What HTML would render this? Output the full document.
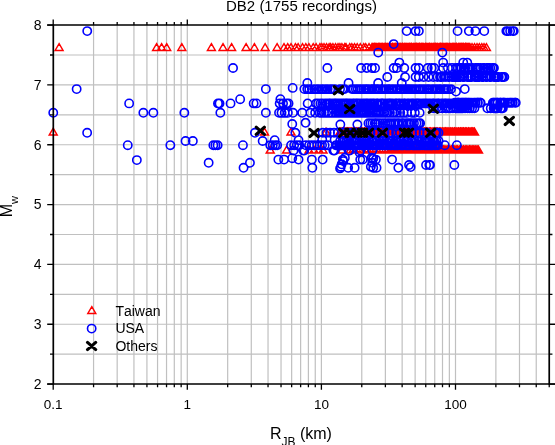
<!DOCTYPE html><html><head><meta charset="utf-8"><title>DB2</title><style>html,body{margin:0;padding:0;background:#fff}svg{display:block}text{font-kerning:none;font-family:"Liberation Sans",Arial,Helvetica,sans-serif;fill:#000}</style></head><body>
<svg width="555" height="445" viewBox="0 0 555 445">
<rect width="555" height="445" fill="#fff"/>
<path d="M93.57 25.1V384.1M117.18 25.1V384.1M133.94 25.1V384.1M146.93 25.1V384.1M157.55 25.1V384.1M166.53 25.1V384.1M174.30 25.1V384.1M181.16 25.1V384.1M187.30 25.1V384.1M227.67 25.1V384.1M251.28 25.1V384.1M268.04 25.1V384.1M281.03 25.1V384.1M291.65 25.1V384.1M300.63 25.1V384.1M308.40 25.1V384.1M315.26 25.1V384.1M321.40 25.1V384.1M361.77 25.1V384.1M385.38 25.1V384.1M402.14 25.1V384.1M415.13 25.1V384.1M425.75 25.1V384.1M434.73 25.1V384.1M442.50 25.1V384.1M449.36 25.1V384.1M455.50 25.1V384.1M495.87 25.1V384.1M519.48 25.1V384.1M536.24 25.1V384.1M53.2 354.18H549.23M53.2 324.27H549.23M53.2 294.35H549.23M53.2 264.43H549.23M53.2 234.52H549.23M53.2 204.60H549.23M53.2 174.68H549.23M53.2 144.77H549.23M53.2 114.85H549.23M53.2 84.93H549.23M53.2 55.02H549.23" stroke="#c0c0c0" stroke-width="1.2" fill="none"/>
<path d="M59.1 43.6l3.98 6.90h-7.97zM156.6 43.6l3.98 6.90h-7.97zM161.6 43.6l3.98 6.90h-7.97zM166.7 43.6l3.98 6.90h-7.97zM181.8 43.6l3.98 6.90h-7.97zM211.4 43.6l3.98 6.90h-7.97zM223.0 43.6l3.98 6.90h-7.97zM231.6 43.6l3.98 6.90h-7.97zM246.1 43.6l3.98 6.90h-7.97zM254.4 43.6l3.98 6.90h-7.97zM265.1 43.6l3.98 6.90h-7.97zM277.1 43.6l3.98 6.90h-7.97zM284.0 43.6l3.98 6.90h-7.97zM287.7 43.6l3.98 6.90h-7.97zM291.0 43.6l3.98 6.90h-7.97zM295.4 43.6l3.98 6.90h-7.97zM298.1 43.6l3.98 6.90h-7.97zM302.5 43.6l3.98 6.90h-7.97zM305.8 43.6l3.98 6.90h-7.97zM308.9 43.6l3.98 6.90h-7.97zM313.2 43.6l3.98 6.90h-7.97zM316.1 43.6l3.98 6.90h-7.97zM319.9 43.6l3.98 6.90h-7.97zM321.8 43.6l3.98 6.90h-7.97zM324.0 43.6l3.98 6.90h-7.97zM326.5 43.6l3.98 6.90h-7.97zM329.1 43.6l3.98 6.90h-7.97zM330.6 43.6l3.98 6.90h-7.97zM332.9 43.6l3.98 6.90h-7.97zM335.5 43.6l3.98 6.90h-7.97zM338.0 43.6l3.98 6.90h-7.97zM339.9 43.6l3.98 6.90h-7.97zM341.9 43.6l3.98 6.90h-7.97zM344.7 43.6l3.98 6.90h-7.97zM346.0 43.6l3.98 6.90h-7.97zM349.7 43.6l3.98 6.90h-7.97zM351.8 43.6l3.98 6.90h-7.97zM354.5 43.6l3.98 6.90h-7.97zM357.2 43.6l3.98 6.90h-7.97zM360.3 43.6l3.98 6.90h-7.97zM363.7 43.6l3.98 6.90h-7.97zM365.7 43.6l3.98 6.90h-7.97zM369.0 43.6l3.98 6.90h-7.97zM371.9 43.6l3.98 6.90h-7.97zM372.9 43.6l3.98 6.90h-7.97zM374.0 43.6l3.98 6.90h-7.97zM374.8 43.6l3.98 6.90h-7.97zM375.8 43.6l3.98 6.90h-7.97zM376.9 43.6l3.98 6.90h-7.97zM378.1 43.6l3.98 6.90h-7.97zM379.0 43.6l3.98 6.90h-7.97zM379.9 43.6l3.98 6.90h-7.97zM381.0 43.6l3.98 6.90h-7.97zM382.0 43.6l3.98 6.90h-7.97zM382.9 43.6l3.98 6.90h-7.97zM384.1 43.6l3.98 6.90h-7.97zM385.1 43.6l3.98 6.90h-7.97zM385.9 43.6l3.98 6.90h-7.97zM387.0 43.6l3.98 6.90h-7.97zM388.0 43.6l3.98 6.90h-7.97zM389.2 43.6l3.98 6.90h-7.97zM390.1 43.6l3.98 6.90h-7.97zM390.9 43.6l3.98 6.90h-7.97zM392.2 43.6l3.98 6.90h-7.97zM392.8 43.6l3.98 6.90h-7.97zM394.0 43.6l3.98 6.90h-7.97zM395.1 43.6l3.98 6.90h-7.97zM395.9 43.6l3.98 6.90h-7.97zM397.0 43.6l3.98 6.90h-7.97zM397.8 43.6l3.98 6.90h-7.97zM399.1 43.6l3.98 6.90h-7.97zM400.1 43.6l3.98 6.90h-7.97zM401.0 43.6l3.98 6.90h-7.97zM402.2 43.6l3.98 6.90h-7.97zM402.9 43.6l3.98 6.90h-7.97zM404.1 43.6l3.98 6.90h-7.97zM405.0 43.6l3.98 6.90h-7.97zM406.0 43.6l3.98 6.90h-7.97zM407.0 43.6l3.98 6.90h-7.97zM408.1 43.6l3.98 6.90h-7.97zM409.2 43.6l3.98 6.90h-7.97zM410.0 43.6l3.98 6.90h-7.97zM411.1 43.6l3.98 6.90h-7.97zM411.8 43.6l3.98 6.90h-7.97zM413.1 43.6l3.98 6.90h-7.97zM414.1 43.6l3.98 6.90h-7.97zM415.2 43.6l3.98 6.90h-7.97zM416.1 43.6l3.98 6.90h-7.97zM416.9 43.6l3.98 6.90h-7.97zM418.0 43.6l3.98 6.90h-7.97zM419.1 43.6l3.98 6.90h-7.97zM419.8 43.6l3.98 6.90h-7.97zM421.0 43.6l3.98 6.90h-7.97zM421.9 43.6l3.98 6.90h-7.97zM422.8 43.6l3.98 6.90h-7.97zM423.8 43.6l3.98 6.90h-7.97zM425.1 43.6l3.98 6.90h-7.97zM425.9 43.6l3.98 6.90h-7.97zM426.9 43.6l3.98 6.90h-7.97zM428.0 43.6l3.98 6.90h-7.97zM429.1 43.6l3.98 6.90h-7.97zM429.8 43.6l3.98 6.90h-7.97zM431.0 43.6l3.98 6.90h-7.97zM432.0 43.6l3.98 6.90h-7.97zM433.2 43.6l3.98 6.90h-7.97zM434.1 43.6l3.98 6.90h-7.97zM435.1 43.6l3.98 6.90h-7.97zM435.9 43.6l3.98 6.90h-7.97zM437.0 43.6l3.98 6.90h-7.97zM437.9 43.6l3.98 6.90h-7.97zM439.2 43.6l3.98 6.90h-7.97zM440.2 43.6l3.98 6.90h-7.97zM440.9 43.6l3.98 6.90h-7.97zM441.9 43.6l3.98 6.90h-7.97zM442.9 43.6l3.98 6.90h-7.97zM443.9 43.6l3.98 6.90h-7.97zM445.0 43.6l3.98 6.90h-7.97zM446.0 43.6l3.98 6.90h-7.97zM446.9 43.6l3.98 6.90h-7.97zM447.8 43.6l3.98 6.90h-7.97zM449.0 43.6l3.98 6.90h-7.97zM449.9 43.6l3.98 6.90h-7.97zM451.0 43.6l3.98 6.90h-7.97zM452.2 43.6l3.98 6.90h-7.97zM453.1 43.6l3.98 6.90h-7.97zM454.0 43.6l3.98 6.90h-7.97zM455.0 43.6l3.98 6.90h-7.97zM456.1 43.6l3.98 6.90h-7.97zM456.8 43.6l3.98 6.90h-7.97zM458.2 43.6l3.98 6.90h-7.97zM459.1 43.6l3.98 6.90h-7.97zM460.1 43.6l3.98 6.90h-7.97zM461.1 43.6l3.98 6.90h-7.97zM462.0 43.6l3.98 6.90h-7.97zM463.0 43.6l3.98 6.90h-7.97zM463.8 43.6l3.98 6.90h-7.97zM465.1 43.6l3.98 6.90h-7.97zM465.8 43.6l3.98 6.90h-7.97zM466.8 43.6l3.98 6.90h-7.97zM467.9 43.6l3.98 6.90h-7.97zM468.9 43.6l3.98 6.90h-7.97zM469.9 43.6l3.98 6.90h-7.97zM472.0 43.6l3.98 6.90h-7.97zM474.5 43.6l3.98 6.90h-7.97zM477.0 43.6l3.98 6.90h-7.97zM479.3 43.6l3.98 6.90h-7.97zM481.8 43.6l3.98 6.90h-7.97zM484.0 43.6l3.98 6.90h-7.97zM486.4 43.6l3.98 6.90h-7.97zM53.2 128.2l3.98 6.90h-7.97zM264.5 128.2l3.98 6.90h-7.97zM291.0 128.2l3.98 6.90h-7.97zM326.0 128.2l3.98 6.90h-7.97zM339.8 128.2l3.98 6.90h-7.97zM340.8 128.2l3.98 6.90h-7.97zM341.9 128.2l3.98 6.90h-7.97zM342.8 128.2l3.98 6.90h-7.97zM343.9 128.2l3.98 6.90h-7.97zM344.8 128.2l3.98 6.90h-7.97zM346.1 128.2l3.98 6.90h-7.97zM347.0 128.2l3.98 6.90h-7.97zM347.9 128.2l3.98 6.90h-7.97zM348.9 128.2l3.98 6.90h-7.97zM349.9 128.2l3.98 6.90h-7.97zM350.9 128.2l3.98 6.90h-7.97zM351.8 128.2l3.98 6.90h-7.97zM353.1 128.2l3.98 6.90h-7.97zM354.2 128.2l3.98 6.90h-7.97zM355.0 128.2l3.98 6.90h-7.97zM356.0 128.2l3.98 6.90h-7.97zM356.8 128.2l3.98 6.90h-7.97zM357.8 128.2l3.98 6.90h-7.97zM358.9 128.2l3.98 6.90h-7.97zM359.9 128.2l3.98 6.90h-7.97zM361.1 128.2l3.98 6.90h-7.97zM361.9 128.2l3.98 6.90h-7.97zM362.8 128.2l3.98 6.90h-7.97zM364.2 128.2l3.98 6.90h-7.97zM365.0 128.2l3.98 6.90h-7.97zM365.9 128.2l3.98 6.90h-7.97zM367.0 128.2l3.98 6.90h-7.97zM367.8 128.2l3.98 6.90h-7.97zM369.0 128.2l3.98 6.90h-7.97zM370.2 128.2l3.98 6.90h-7.97zM371.1 128.2l3.98 6.90h-7.97zM372.1 128.2l3.98 6.90h-7.97zM372.9 128.2l3.98 6.90h-7.97zM373.9 128.2l3.98 6.90h-7.97zM374.9 128.2l3.98 6.90h-7.97zM376.1 128.2l3.98 6.90h-7.97zM377.0 128.2l3.98 6.90h-7.97zM378.1 128.2l3.98 6.90h-7.97zM378.9 128.2l3.98 6.90h-7.97zM379.9 128.2l3.98 6.90h-7.97zM381.1 128.2l3.98 6.90h-7.97zM382.2 128.2l3.98 6.90h-7.97zM383.1 128.2l3.98 6.90h-7.97zM384.1 128.2l3.98 6.90h-7.97zM385.1 128.2l3.98 6.90h-7.97zM386.1 128.2l3.98 6.90h-7.97zM386.9 128.2l3.98 6.90h-7.97zM388.0 128.2l3.98 6.90h-7.97zM388.9 128.2l3.98 6.90h-7.97zM389.8 128.2l3.98 6.90h-7.97zM390.8 128.2l3.98 6.90h-7.97zM391.9 128.2l3.98 6.90h-7.97zM392.9 128.2l3.98 6.90h-7.97zM394.1 128.2l3.98 6.90h-7.97zM395.2 128.2l3.98 6.90h-7.97zM396.0 128.2l3.98 6.90h-7.97zM397.2 128.2l3.98 6.90h-7.97zM398.2 128.2l3.98 6.90h-7.97zM399.2 128.2l3.98 6.90h-7.97zM399.9 128.2l3.98 6.90h-7.97zM400.9 128.2l3.98 6.90h-7.97zM401.9 128.2l3.98 6.90h-7.97zM402.9 128.2l3.98 6.90h-7.97zM403.9 128.2l3.98 6.90h-7.97zM405.0 128.2l3.98 6.90h-7.97zM406.2 128.2l3.98 6.90h-7.97zM407.1 128.2l3.98 6.90h-7.97zM408.0 128.2l3.98 6.90h-7.97zM409.1 128.2l3.98 6.90h-7.97zM410.1 128.2l3.98 6.90h-7.97zM410.8 128.2l3.98 6.90h-7.97zM412.1 128.2l3.98 6.90h-7.97zM413.2 128.2l3.98 6.90h-7.97zM414.1 128.2l3.98 6.90h-7.97zM415.1 128.2l3.98 6.90h-7.97zM416.0 128.2l3.98 6.90h-7.97zM416.9 128.2l3.98 6.90h-7.97zM418.1 128.2l3.98 6.90h-7.97zM418.9 128.2l3.98 6.90h-7.97zM420.1 128.2l3.98 6.90h-7.97zM421.2 128.2l3.98 6.90h-7.97zM422.0 128.2l3.98 6.90h-7.97zM423.0 128.2l3.98 6.90h-7.97zM424.2 128.2l3.98 6.90h-7.97zM425.1 128.2l3.98 6.90h-7.97zM425.9 128.2l3.98 6.90h-7.97zM426.9 128.2l3.98 6.90h-7.97zM427.9 128.2l3.98 6.90h-7.97zM429.2 128.2l3.98 6.90h-7.97zM430.1 128.2l3.98 6.90h-7.97zM430.9 128.2l3.98 6.90h-7.97zM432.1 128.2l3.98 6.90h-7.97zM433.2 128.2l3.98 6.90h-7.97zM434.1 128.2l3.98 6.90h-7.97zM434.9 128.2l3.98 6.90h-7.97zM436.0 128.2l3.98 6.90h-7.97zM436.9 128.2l3.98 6.90h-7.97zM437.8 128.2l3.98 6.90h-7.97zM439.2 128.2l3.98 6.90h-7.97zM440.1 128.2l3.98 6.90h-7.97zM441.0 128.2l3.98 6.90h-7.97zM442.2 128.2l3.98 6.90h-7.97zM443.0 128.2l3.98 6.90h-7.97zM444.1 128.2l3.98 6.90h-7.97zM445.1 128.2l3.98 6.90h-7.97zM445.9 128.2l3.98 6.90h-7.97zM446.9 128.2l3.98 6.90h-7.97zM447.9 128.2l3.98 6.90h-7.97zM448.9 128.2l3.98 6.90h-7.97zM450.0 128.2l3.98 6.90h-7.97zM450.9 128.2l3.98 6.90h-7.97zM452.0 128.2l3.98 6.90h-7.97zM452.9 128.2l3.98 6.90h-7.97zM454.2 128.2l3.98 6.90h-7.97zM454.9 128.2l3.98 6.90h-7.97zM456.0 128.2l3.98 6.90h-7.97zM457.0 128.2l3.98 6.90h-7.97zM458.2 128.2l3.98 6.90h-7.97zM459.0 128.2l3.98 6.90h-7.97zM460.2 128.2l3.98 6.90h-7.97zM461.0 128.2l3.98 6.90h-7.97zM462.0 128.2l3.98 6.90h-7.97zM463.0 128.2l3.98 6.90h-7.97zM463.8 128.2l3.98 6.90h-7.97zM465.0 128.2l3.98 6.90h-7.97zM465.9 128.2l3.98 6.90h-7.97zM466.8 128.2l3.98 6.90h-7.97zM468.1 128.2l3.98 6.90h-7.97zM468.9 128.2l3.98 6.90h-7.97zM470.0 128.2l3.98 6.90h-7.97zM471.1 128.2l3.98 6.90h-7.97zM472.0 128.2l3.98 6.90h-7.97zM472.9 128.2l3.98 6.90h-7.97zM474.0 128.2l3.98 6.90h-7.97zM474.5 128.2l3.98 6.90h-7.97zM270.2 146.2l3.98 6.90h-7.97zM286.6 146.2l3.98 6.90h-7.97zM309.0 146.2l3.98 6.90h-7.97zM314.0 146.2l3.98 6.90h-7.97zM319.0 146.2l3.98 6.90h-7.97zM323.0 146.2l3.98 6.90h-7.97zM342.0 146.2l3.98 6.90h-7.97zM350.1 146.2l3.98 6.90h-7.97zM352.8 146.2l3.98 6.90h-7.97zM354.6 146.2l3.98 6.90h-7.97zM357.6 146.2l3.98 6.90h-7.97zM359.7 146.2l3.98 6.90h-7.97zM362.3 146.2l3.98 6.90h-7.97zM365.3 146.2l3.98 6.90h-7.97zM367.5 146.2l3.98 6.90h-7.97zM370.1 146.2l3.98 6.90h-7.97zM372.8 146.2l3.98 6.90h-7.97zM375.4 146.2l3.98 6.90h-7.97zM377.4 146.2l3.98 6.90h-7.97zM380.1 146.2l3.98 6.90h-7.97zM382.5 146.2l3.98 6.90h-7.97zM385.0 146.2l3.98 6.90h-7.97zM387.7 146.2l3.98 6.90h-7.97zM390.0 146.2l3.98 6.90h-7.97zM391.0 146.2l3.98 6.90h-7.97zM392.0 146.2l3.98 6.90h-7.97zM393.2 146.2l3.98 6.90h-7.97zM394.1 146.2l3.98 6.90h-7.97zM395.2 146.2l3.98 6.90h-7.97zM396.2 146.2l3.98 6.90h-7.97zM396.9 146.2l3.98 6.90h-7.97zM398.0 146.2l3.98 6.90h-7.97zM399.2 146.2l3.98 6.90h-7.97zM400.1 146.2l3.98 6.90h-7.97zM400.9 146.2l3.98 6.90h-7.97zM401.8 146.2l3.98 6.90h-7.97zM403.0 146.2l3.98 6.90h-7.97zM403.8 146.2l3.98 6.90h-7.97zM404.9 146.2l3.98 6.90h-7.97zM405.8 146.2l3.98 6.90h-7.97zM407.1 146.2l3.98 6.90h-7.97zM408.1 146.2l3.98 6.90h-7.97zM409.2 146.2l3.98 6.90h-7.97zM409.9 146.2l3.98 6.90h-7.97zM411.1 146.2l3.98 6.90h-7.97zM412.1 146.2l3.98 6.90h-7.97zM412.9 146.2l3.98 6.90h-7.97zM414.2 146.2l3.98 6.90h-7.97zM415.2 146.2l3.98 6.90h-7.97zM415.9 146.2l3.98 6.90h-7.97zM417.2 146.2l3.98 6.90h-7.97zM418.0 146.2l3.98 6.90h-7.97zM419.0 146.2l3.98 6.90h-7.97zM420.2 146.2l3.98 6.90h-7.97zM421.1 146.2l3.98 6.90h-7.97zM421.9 146.2l3.98 6.90h-7.97zM423.0 146.2l3.98 6.90h-7.97zM424.0 146.2l3.98 6.90h-7.97zM424.9 146.2l3.98 6.90h-7.97zM425.9 146.2l3.98 6.90h-7.97zM426.9 146.2l3.98 6.90h-7.97zM428.1 146.2l3.98 6.90h-7.97zM428.8 146.2l3.98 6.90h-7.97zM430.0 146.2l3.98 6.90h-7.97zM431.0 146.2l3.98 6.90h-7.97zM431.8 146.2l3.98 6.90h-7.97zM432.9 146.2l3.98 6.90h-7.97zM434.0 146.2l3.98 6.90h-7.97zM435.0 146.2l3.98 6.90h-7.97zM435.8 146.2l3.98 6.90h-7.97zM437.2 146.2l3.98 6.90h-7.97zM438.1 146.2l3.98 6.90h-7.97zM439.2 146.2l3.98 6.90h-7.97zM439.8 146.2l3.98 6.90h-7.97zM440.9 146.2l3.98 6.90h-7.97zM441.8 146.2l3.98 6.90h-7.97zM443.1 146.2l3.98 6.90h-7.97zM443.9 146.2l3.98 6.90h-7.97zM444.9 146.2l3.98 6.90h-7.97zM446.0 146.2l3.98 6.90h-7.97zM447.2 146.2l3.98 6.90h-7.97zM448.1 146.2l3.98 6.90h-7.97zM448.9 146.2l3.98 6.90h-7.97zM449.9 146.2l3.98 6.90h-7.97zM451.2 146.2l3.98 6.90h-7.97zM452.0 146.2l3.98 6.90h-7.97zM453.1 146.2l3.98 6.90h-7.97zM453.8 146.2l3.98 6.90h-7.97zM454.8 146.2l3.98 6.90h-7.97zM456.1 146.2l3.98 6.90h-7.97zM457.0 146.2l3.98 6.90h-7.97zM457.8 146.2l3.98 6.90h-7.97zM459.2 146.2l3.98 6.90h-7.97zM460.1 146.2l3.98 6.90h-7.97zM461.1 146.2l3.98 6.90h-7.97zM461.8 146.2l3.98 6.90h-7.97zM463.1 146.2l3.98 6.90h-7.97zM463.8 146.2l3.98 6.90h-7.97zM465.1 146.2l3.98 6.90h-7.97zM466.0 146.2l3.98 6.90h-7.97zM466.9 146.2l3.98 6.90h-7.97zM468.0 146.2l3.98 6.90h-7.97zM469.2 146.2l3.98 6.90h-7.97zM469.9 146.2l3.98 6.90h-7.97zM470.9 146.2l3.98 6.90h-7.97zM472.0 146.2l3.98 6.90h-7.97zM472.9 146.2l3.98 6.90h-7.97zM473.8 146.2l3.98 6.90h-7.97zM474.9 146.2l3.98 6.90h-7.97zM475.8 146.2l3.98 6.90h-7.97zM476.9 146.2l3.98 6.90h-7.97zM477.9 146.2l3.98 6.90h-7.97zM478.5 146.2l3.98 6.90h-7.97zM91.8 306.6l3.98 6.90h-7.97z" fill="none" stroke="#f00" stroke-width="1.45" stroke-linejoin="miter"/>
<path d="M83.1 31.1a4.15 4.15 0 1 0 8.3 0a4.15 4.15 0 1 0 -8.3 0M402.5 31.1a4.15 4.15 0 1 0 8.3 0a4.15 4.15 0 1 0 -8.3 0M411.4 31.1a4.15 4.15 0 1 0 8.3 0a4.15 4.15 0 1 0 -8.3 0M414.7 31.1a4.15 4.15 0 1 0 8.3 0a4.15 4.15 0 1 0 -8.3 0M453.4 31.1a4.15 4.15 0 1 0 8.3 0a4.15 4.15 0 1 0 -8.3 0M464.7 31.1a4.15 4.15 0 1 0 8.3 0a4.15 4.15 0 1 0 -8.3 0M471.2 31.1a4.15 4.15 0 1 0 8.3 0a4.15 4.15 0 1 0 -8.3 0M480.1 31.1a4.15 4.15 0 1 0 8.3 0a4.15 4.15 0 1 0 -8.3 0M502.2 31.1a4.15 4.15 0 1 0 8.3 0a4.15 4.15 0 1 0 -8.3 0M503.5 31.1a4.15 4.15 0 1 0 8.3 0a4.15 4.15 0 1 0 -8.3 0M506.0 31.1a4.15 4.15 0 1 0 8.3 0a4.15 4.15 0 1 0 -8.3 0M508.5 31.1a4.15 4.15 0 1 0 8.3 0a4.15 4.15 0 1 0 -8.3 0M509.6 31.1a4.15 4.15 0 1 0 8.3 0a4.15 4.15 0 1 0 -8.3 0M389.5 44.1a4.15 4.15 0 1 0 8.3 0a4.15 4.15 0 1 0 -8.3 0M374.1 52.6a4.15 4.15 0 1 0 8.3 0a4.15 4.15 0 1 0 -8.3 0M438.2 52.6a4.15 4.15 0 1 0 8.3 0a4.15 4.15 0 1 0 -8.3 0M395.2 62.6a4.15 4.15 0 1 0 8.3 0a4.15 4.15 0 1 0 -8.3 0M439.0 62.6a4.15 4.15 0 1 0 8.3 0a4.15 4.15 0 1 0 -8.3 0M459.1 62.6a4.15 4.15 0 1 0 8.3 0a4.15 4.15 0 1 0 -8.3 0M463.1 62.6a4.15 4.15 0 1 0 8.3 0a4.15 4.15 0 1 0 -8.3 0M228.9 68.0a4.15 4.15 0 1 0 8.3 0a4.15 4.15 0 1 0 -8.3 0M323.2 68.0a4.15 4.15 0 1 0 8.3 0a4.15 4.15 0 1 0 -8.3 0M357.0 68.0a4.15 4.15 0 1 0 8.3 0a4.15 4.15 0 1 0 -8.3 0M362.6 68.0a4.15 4.15 0 1 0 8.3 0a4.15 4.15 0 1 0 -8.3 0M367.7 68.0a4.15 4.15 0 1 0 8.3 0a4.15 4.15 0 1 0 -8.3 0M370.9 68.0a4.15 4.15 0 1 0 8.3 0a4.15 4.15 0 1 0 -8.3 0M389.5 68.0a4.15 4.15 0 1 0 8.3 0a4.15 4.15 0 1 0 -8.3 0M392.8 68.0a4.15 4.15 0 1 0 8.3 0a4.15 4.15 0 1 0 -8.3 0M400.1 68.0a4.15 4.15 0 1 0 8.3 0a4.15 4.15 0 1 0 -8.3 0M411.4 68.0a4.15 4.15 0 1 0 8.3 0a4.15 4.15 0 1 0 -8.3 0M414.7 68.0a4.15 4.15 0 1 0 8.3 0a4.15 4.15 0 1 0 -8.3 0M423.6 68.0a4.15 4.15 0 1 0 8.3 0a4.15 4.15 0 1 0 -8.3 0M427.6 68.0a4.15 4.15 0 1 0 8.3 0a4.15 4.15 0 1 0 -8.3 0M430.1 68.0a4.15 4.15 0 1 0 8.3 0a4.15 4.15 0 1 0 -8.3 0M439.0 68.0a4.15 4.15 0 1 0 8.3 0a4.15 4.15 0 1 0 -8.3 0M443.8 68.0a4.15 4.15 0 1 0 8.3 0a4.15 4.15 0 1 0 -8.3 0M447.9 68.0a4.15 4.15 0 1 0 8.3 0a4.15 4.15 0 1 0 -8.3 0M451.9 68.0a4.15 4.15 0 1 0 8.3 0a4.15 4.15 0 1 0 -8.3 0M453.7 68.0a4.15 4.15 0 1 0 8.3 0a4.15 4.15 0 1 0 -8.3 0M456.0 68.0a4.15 4.15 0 1 0 8.3 0a4.15 4.15 0 1 0 -8.3 0M457.4 68.0a4.15 4.15 0 1 0 8.3 0a4.15 4.15 0 1 0 -8.3 0M459.6 68.0a4.15 4.15 0 1 0 8.3 0a4.15 4.15 0 1 0 -8.3 0M461.1 68.0a4.15 4.15 0 1 0 8.3 0a4.15 4.15 0 1 0 -8.3 0M463.2 68.0a4.15 4.15 0 1 0 8.3 0a4.15 4.15 0 1 0 -8.3 0M464.8 68.0a4.15 4.15 0 1 0 8.3 0a4.15 4.15 0 1 0 -8.3 0M466.9 68.0a4.15 4.15 0 1 0 8.3 0a4.15 4.15 0 1 0 -8.3 0M468.6 68.0a4.15 4.15 0 1 0 8.3 0a4.15 4.15 0 1 0 -8.3 0M471.2 68.0a4.15 4.15 0 1 0 8.3 0a4.15 4.15 0 1 0 -8.3 0M472.9 68.0a4.15 4.15 0 1 0 8.3 0a4.15 4.15 0 1 0 -8.3 0M474.4 68.0a4.15 4.15 0 1 0 8.3 0a4.15 4.15 0 1 0 -8.3 0M476.6 68.0a4.15 4.15 0 1 0 8.3 0a4.15 4.15 0 1 0 -8.3 0M479.0 68.0a4.15 4.15 0 1 0 8.3 0a4.15 4.15 0 1 0 -8.3 0M480.1 68.0a4.15 4.15 0 1 0 8.3 0a4.15 4.15 0 1 0 -8.3 0M482.7 68.0a4.15 4.15 0 1 0 8.3 0a4.15 4.15 0 1 0 -8.3 0M484.2 68.0a4.15 4.15 0 1 0 8.3 0a4.15 4.15 0 1 0 -8.3 0M486.1 68.0a4.15 4.15 0 1 0 8.3 0a4.15 4.15 0 1 0 -8.3 0M488.4 68.0a4.15 4.15 0 1 0 8.3 0a4.15 4.15 0 1 0 -8.3 0M489.8 68.0a4.15 4.15 0 1 0 8.3 0a4.15 4.15 0 1 0 -8.3 0M383.1 77.0a4.15 4.15 0 1 0 8.3 0a4.15 4.15 0 1 0 -8.3 0M400.9 77.0a4.15 4.15 0 1 0 8.3 0a4.15 4.15 0 1 0 -8.3 0M411.4 77.0a4.15 4.15 0 1 0 8.3 0a4.15 4.15 0 1 0 -8.3 0M414.7 77.0a4.15 4.15 0 1 0 8.3 0a4.15 4.15 0 1 0 -8.3 0M419.5 77.0a4.15 4.15 0 1 0 8.3 0a4.15 4.15 0 1 0 -8.3 0M424.4 77.0a4.15 4.15 0 1 0 8.3 0a4.15 4.15 0 1 0 -8.3 0M429.2 77.0a4.15 4.15 0 1 0 8.3 0a4.15 4.15 0 1 0 -8.3 0M433.2 77.0a4.15 4.15 0 1 0 8.3 0a4.15 4.15 0 1 0 -8.3 0M435.9 77.0a4.15 4.15 0 1 0 8.3 0a4.15 4.15 0 1 0 -8.3 0M437.7 77.0a4.15 4.15 0 1 0 8.3 0a4.15 4.15 0 1 0 -8.3 0M439.8 77.0a4.15 4.15 0 1 0 8.3 0a4.15 4.15 0 1 0 -8.3 0M441.8 77.0a4.15 4.15 0 1 0 8.3 0a4.15 4.15 0 1 0 -8.3 0M444.0 77.0a4.15 4.15 0 1 0 8.3 0a4.15 4.15 0 1 0 -8.3 0M445.3 77.0a4.15 4.15 0 1 0 8.3 0a4.15 4.15 0 1 0 -8.3 0M447.7 77.0a4.15 4.15 0 1 0 8.3 0a4.15 4.15 0 1 0 -8.3 0M449.5 77.0a4.15 4.15 0 1 0 8.3 0a4.15 4.15 0 1 0 -8.3 0M451.3 77.0a4.15 4.15 0 1 0 8.3 0a4.15 4.15 0 1 0 -8.3 0M453.0 77.0a4.15 4.15 0 1 0 8.3 0a4.15 4.15 0 1 0 -8.3 0M454.8 77.0a4.15 4.15 0 1 0 8.3 0a4.15 4.15 0 1 0 -8.3 0M456.4 77.0a4.15 4.15 0 1 0 8.3 0a4.15 4.15 0 1 0 -8.3 0M458.4 77.0a4.15 4.15 0 1 0 8.3 0a4.15 4.15 0 1 0 -8.3 0M460.2 77.0a4.15 4.15 0 1 0 8.3 0a4.15 4.15 0 1 0 -8.3 0M462.8 77.0a4.15 4.15 0 1 0 8.3 0a4.15 4.15 0 1 0 -8.3 0M464.2 77.0a4.15 4.15 0 1 0 8.3 0a4.15 4.15 0 1 0 -8.3 0M466.0 77.0a4.15 4.15 0 1 0 8.3 0a4.15 4.15 0 1 0 -8.3 0M467.8 77.0a4.15 4.15 0 1 0 8.3 0a4.15 4.15 0 1 0 -8.3 0M470.5 77.0a4.15 4.15 0 1 0 8.3 0a4.15 4.15 0 1 0 -8.3 0M472.4 77.0a4.15 4.15 0 1 0 8.3 0a4.15 4.15 0 1 0 -8.3 0M474.1 77.0a4.15 4.15 0 1 0 8.3 0a4.15 4.15 0 1 0 -8.3 0M475.6 77.0a4.15 4.15 0 1 0 8.3 0a4.15 4.15 0 1 0 -8.3 0M477.5 77.0a4.15 4.15 0 1 0 8.3 0a4.15 4.15 0 1 0 -8.3 0M479.4 77.0a4.15 4.15 0 1 0 8.3 0a4.15 4.15 0 1 0 -8.3 0M481.5 77.0a4.15 4.15 0 1 0 8.3 0a4.15 4.15 0 1 0 -8.3 0M483.1 77.0a4.15 4.15 0 1 0 8.3 0a4.15 4.15 0 1 0 -8.3 0M485.3 77.0a4.15 4.15 0 1 0 8.3 0a4.15 4.15 0 1 0 -8.3 0M487.0 77.0a4.15 4.15 0 1 0 8.3 0a4.15 4.15 0 1 0 -8.3 0M489.6 77.0a4.15 4.15 0 1 0 8.3 0a4.15 4.15 0 1 0 -8.3 0M491.5 77.0a4.15 4.15 0 1 0 8.3 0a4.15 4.15 0 1 0 -8.3 0M493.0 77.0a4.15 4.15 0 1 0 8.3 0a4.15 4.15 0 1 0 -8.3 0M494.6 77.0a4.15 4.15 0 1 0 8.3 0a4.15 4.15 0 1 0 -8.3 0M497.2 77.0a4.15 4.15 0 1 0 8.3 0a4.15 4.15 0 1 0 -8.3 0M498.5 77.0a4.15 4.15 0 1 0 8.3 0a4.15 4.15 0 1 0 -8.3 0M500.2 77.0a4.15 4.15 0 1 0 8.3 0a4.15 4.15 0 1 0 -8.3 0M303.2 83.0a4.15 4.15 0 1 0 8.3 0a4.15 4.15 0 1 0 -8.3 0M344.4 83.0a4.15 4.15 0 1 0 8.3 0a4.15 4.15 0 1 0 -8.3 0M374.0 83.0a4.15 4.15 0 1 0 8.3 0a4.15 4.15 0 1 0 -8.3 0M397.6 83.0a4.15 4.15 0 1 0 8.3 0a4.15 4.15 0 1 0 -8.3 0M72.5 89.1a4.15 4.15 0 1 0 8.3 0a4.15 4.15 0 1 0 -8.3 0M261.7 89.1a4.15 4.15 0 1 0 8.3 0a4.15 4.15 0 1 0 -8.3 0M288.5 87.9a4.15 4.15 0 1 0 8.3 0a4.15 4.15 0 1 0 -8.3 0M300.2 89.1a4.15 4.15 0 1 0 8.3 0a4.15 4.15 0 1 0 -8.3 0M303.1 89.1a4.15 4.15 0 1 0 8.3 0a4.15 4.15 0 1 0 -8.3 0M305.1 89.1a4.15 4.15 0 1 0 8.3 0a4.15 4.15 0 1 0 -8.3 0M307.7 89.1a4.15 4.15 0 1 0 8.3 0a4.15 4.15 0 1 0 -8.3 0M310.1 89.1a4.15 4.15 0 1 0 8.3 0a4.15 4.15 0 1 0 -8.3 0M312.5 89.1a4.15 4.15 0 1 0 8.3 0a4.15 4.15 0 1 0 -8.3 0M314.5 89.1a4.15 4.15 0 1 0 8.3 0a4.15 4.15 0 1 0 -8.3 0M317.1 89.1a4.15 4.15 0 1 0 8.3 0a4.15 4.15 0 1 0 -8.3 0M318.9 89.1a4.15 4.15 0 1 0 8.3 0a4.15 4.15 0 1 0 -8.3 0M321.4 89.1a4.15 4.15 0 1 0 8.3 0a4.15 4.15 0 1 0 -8.3 0M323.5 89.1a4.15 4.15 0 1 0 8.3 0a4.15 4.15 0 1 0 -8.3 0M326.1 89.1a4.15 4.15 0 1 0 8.3 0a4.15 4.15 0 1 0 -8.3 0M328.1 89.1a4.15 4.15 0 1 0 8.3 0a4.15 4.15 0 1 0 -8.3 0M330.4 89.1a4.15 4.15 0 1 0 8.3 0a4.15 4.15 0 1 0 -8.3 0M335.9 89.1a4.15 4.15 0 1 0 8.3 0a4.15 4.15 0 1 0 -8.3 0M338.4 89.1a4.15 4.15 0 1 0 8.3 0a4.15 4.15 0 1 0 -8.3 0M340.4 89.1a4.15 4.15 0 1 0 8.3 0a4.15 4.15 0 1 0 -8.3 0M347.7 89.1a4.15 4.15 0 1 0 8.3 0a4.15 4.15 0 1 0 -8.3 0M349.5 89.1a4.15 4.15 0 1 0 8.3 0a4.15 4.15 0 1 0 -8.3 0M351.7 89.1a4.15 4.15 0 1 0 8.3 0a4.15 4.15 0 1 0 -8.3 0M353.6 89.1a4.15 4.15 0 1 0 8.3 0a4.15 4.15 0 1 0 -8.3 0M355.7 89.1a4.15 4.15 0 1 0 8.3 0a4.15 4.15 0 1 0 -8.3 0M357.5 89.1a4.15 4.15 0 1 0 8.3 0a4.15 4.15 0 1 0 -8.3 0M359.5 89.1a4.15 4.15 0 1 0 8.3 0a4.15 4.15 0 1 0 -8.3 0M361.5 89.1a4.15 4.15 0 1 0 8.3 0a4.15 4.15 0 1 0 -8.3 0M362.9 89.1a4.15 4.15 0 1 0 8.3 0a4.15 4.15 0 1 0 -8.3 0M364.8 89.1a4.15 4.15 0 1 0 8.3 0a4.15 4.15 0 1 0 -8.3 0M367.3 89.1a4.15 4.15 0 1 0 8.3 0a4.15 4.15 0 1 0 -8.3 0M368.4 89.1a4.15 4.15 0 1 0 8.3 0a4.15 4.15 0 1 0 -8.3 0M370.9 89.1a4.15 4.15 0 1 0 8.3 0a4.15 4.15 0 1 0 -8.3 0M372.7 89.1a4.15 4.15 0 1 0 8.3 0a4.15 4.15 0 1 0 -8.3 0M374.0 89.1a4.15 4.15 0 1 0 8.3 0a4.15 4.15 0 1 0 -8.3 0M376.7 89.1a4.15 4.15 0 1 0 8.3 0a4.15 4.15 0 1 0 -8.3 0M378.6 89.1a4.15 4.15 0 1 0 8.3 0a4.15 4.15 0 1 0 -8.3 0M380.3 89.1a4.15 4.15 0 1 0 8.3 0a4.15 4.15 0 1 0 -8.3 0M382.3 89.1a4.15 4.15 0 1 0 8.3 0a4.15 4.15 0 1 0 -8.3 0M384.3 89.1a4.15 4.15 0 1 0 8.3 0a4.15 4.15 0 1 0 -8.3 0M385.5 89.1a4.15 4.15 0 1 0 8.3 0a4.15 4.15 0 1 0 -8.3 0M387.8 89.1a4.15 4.15 0 1 0 8.3 0a4.15 4.15 0 1 0 -8.3 0M389.7 89.1a4.15 4.15 0 1 0 8.3 0a4.15 4.15 0 1 0 -8.3 0M391.9 89.1a4.15 4.15 0 1 0 8.3 0a4.15 4.15 0 1 0 -8.3 0M393.8 89.1a4.15 4.15 0 1 0 8.3 0a4.15 4.15 0 1 0 -8.3 0M395.7 89.1a4.15 4.15 0 1 0 8.3 0a4.15 4.15 0 1 0 -8.3 0M397.3 89.1a4.15 4.15 0 1 0 8.3 0a4.15 4.15 0 1 0 -8.3 0M399.5 89.1a4.15 4.15 0 1 0 8.3 0a4.15 4.15 0 1 0 -8.3 0M401.2 89.1a4.15 4.15 0 1 0 8.3 0a4.15 4.15 0 1 0 -8.3 0M403.1 89.1a4.15 4.15 0 1 0 8.3 0a4.15 4.15 0 1 0 -8.3 0M404.6 89.1a4.15 4.15 0 1 0 8.3 0a4.15 4.15 0 1 0 -8.3 0M406.3 89.1a4.15 4.15 0 1 0 8.3 0a4.15 4.15 0 1 0 -8.3 0M408.3 89.1a4.15 4.15 0 1 0 8.3 0a4.15 4.15 0 1 0 -8.3 0M410.4 89.1a4.15 4.15 0 1 0 8.3 0a4.15 4.15 0 1 0 -8.3 0M412.1 89.1a4.15 4.15 0 1 0 8.3 0a4.15 4.15 0 1 0 -8.3 0M414.7 89.1a4.15 4.15 0 1 0 8.3 0a4.15 4.15 0 1 0 -8.3 0M416.3 89.1a4.15 4.15 0 1 0 8.3 0a4.15 4.15 0 1 0 -8.3 0M418.3 89.1a4.15 4.15 0 1 0 8.3 0a4.15 4.15 0 1 0 -8.3 0M420.2 89.1a4.15 4.15 0 1 0 8.3 0a4.15 4.15 0 1 0 -8.3 0M422.1 89.1a4.15 4.15 0 1 0 8.3 0a4.15 4.15 0 1 0 -8.3 0M423.8 89.1a4.15 4.15 0 1 0 8.3 0a4.15 4.15 0 1 0 -8.3 0M425.3 89.1a4.15 4.15 0 1 0 8.3 0a4.15 4.15 0 1 0 -8.3 0M427.9 89.1a4.15 4.15 0 1 0 8.3 0a4.15 4.15 0 1 0 -8.3 0M429.8 89.1a4.15 4.15 0 1 0 8.3 0a4.15 4.15 0 1 0 -8.3 0M431.5 89.1a4.15 4.15 0 1 0 8.3 0a4.15 4.15 0 1 0 -8.3 0M433.4 89.1a4.15 4.15 0 1 0 8.3 0a4.15 4.15 0 1 0 -8.3 0M435.4 89.1a4.15 4.15 0 1 0 8.3 0a4.15 4.15 0 1 0 -8.3 0M436.7 89.1a4.15 4.15 0 1 0 8.3 0a4.15 4.15 0 1 0 -8.3 0M439.3 89.1a4.15 4.15 0 1 0 8.3 0a4.15 4.15 0 1 0 -8.3 0M440.7 89.1a4.15 4.15 0 1 0 8.3 0a4.15 4.15 0 1 0 -8.3 0M442.4 89.1a4.15 4.15 0 1 0 8.3 0a4.15 4.15 0 1 0 -8.3 0M444.5 89.1a4.15 4.15 0 1 0 8.3 0a4.15 4.15 0 1 0 -8.3 0M446.9 89.1a4.15 4.15 0 1 0 8.3 0a4.15 4.15 0 1 0 -8.3 0M451.9 91.6a4.15 4.15 0 1 0 8.3 0a4.15 4.15 0 1 0 -8.3 0M460.6 89.1a4.15 4.15 0 1 0 8.3 0a4.15 4.15 0 1 0 -8.3 0M236.0 99.2a4.15 4.15 0 1 0 8.3 0a4.15 4.15 0 1 0 -8.3 0M276.2 99.2a4.15 4.15 0 1 0 8.3 0a4.15 4.15 0 1 0 -8.3 0M125.0 103.4a4.15 4.15 0 1 0 8.3 0a4.15 4.15 0 1 0 -8.3 0M213.8 103.4a4.15 4.15 0 1 0 8.3 0a4.15 4.15 0 1 0 -8.3 0M215.4 103.4a4.15 4.15 0 1 0 8.3 0a4.15 4.15 0 1 0 -8.3 0M226.4 103.4a4.15 4.15 0 1 0 8.3 0a4.15 4.15 0 1 0 -8.3 0M249.5 103.4a4.15 4.15 0 1 0 8.3 0a4.15 4.15 0 1 0 -8.3 0M252.3 103.4a4.15 4.15 0 1 0 8.3 0a4.15 4.15 0 1 0 -8.3 0M275.5 103.4a4.15 4.15 0 1 0 8.3 0a4.15 4.15 0 1 0 -8.3 0M278.9 103.4a4.15 4.15 0 1 0 8.3 0a4.15 4.15 0 1 0 -8.3 0M282.5 103.4a4.15 4.15 0 1 0 8.3 0a4.15 4.15 0 1 0 -8.3 0M284.4 103.4a4.15 4.15 0 1 0 8.3 0a4.15 4.15 0 1 0 -8.3 0M303.5 103.4a4.15 4.15 0 1 0 8.3 0a4.15 4.15 0 1 0 -8.3 0M311.9 103.4a4.15 4.15 0 1 0 8.3 0a4.15 4.15 0 1 0 -8.3 0M313.9 103.4a4.15 4.15 0 1 0 8.3 0a4.15 4.15 0 1 0 -8.3 0M316.4 103.4a4.15 4.15 0 1 0 8.3 0a4.15 4.15 0 1 0 -8.3 0M318.4 103.4a4.15 4.15 0 1 0 8.3 0a4.15 4.15 0 1 0 -8.3 0M320.9 103.4a4.15 4.15 0 1 0 8.3 0a4.15 4.15 0 1 0 -8.3 0M322.9 103.4a4.15 4.15 0 1 0 8.3 0a4.15 4.15 0 1 0 -8.3 0M324.9 103.4a4.15 4.15 0 1 0 8.3 0a4.15 4.15 0 1 0 -8.3 0M326.1 103.4a4.15 4.15 0 1 0 8.3 0a4.15 4.15 0 1 0 -8.3 0M328.3 103.4a4.15 4.15 0 1 0 8.3 0a4.15 4.15 0 1 0 -8.3 0M330.2 103.4a4.15 4.15 0 1 0 8.3 0a4.15 4.15 0 1 0 -8.3 0M331.4 103.4a4.15 4.15 0 1 0 8.3 0a4.15 4.15 0 1 0 -8.3 0M333.0 103.4a4.15 4.15 0 1 0 8.3 0a4.15 4.15 0 1 0 -8.3 0M334.8 103.4a4.15 4.15 0 1 0 8.3 0a4.15 4.15 0 1 0 -8.3 0M336.7 103.4a4.15 4.15 0 1 0 8.3 0a4.15 4.15 0 1 0 -8.3 0M338.5 103.4a4.15 4.15 0 1 0 8.3 0a4.15 4.15 0 1 0 -8.3 0M340.1 103.4a4.15 4.15 0 1 0 8.3 0a4.15 4.15 0 1 0 -8.3 0M341.8 103.4a4.15 4.15 0 1 0 8.3 0a4.15 4.15 0 1 0 -8.3 0M342.9 103.4a4.15 4.15 0 1 0 8.3 0a4.15 4.15 0 1 0 -8.3 0M344.7 103.4a4.15 4.15 0 1 0 8.3 0a4.15 4.15 0 1 0 -8.3 0M346.5 103.4a4.15 4.15 0 1 0 8.3 0a4.15 4.15 0 1 0 -8.3 0M348.7 103.4a4.15 4.15 0 1 0 8.3 0a4.15 4.15 0 1 0 -8.3 0M350.0 103.4a4.15 4.15 0 1 0 8.3 0a4.15 4.15 0 1 0 -8.3 0M351.9 103.4a4.15 4.15 0 1 0 8.3 0a4.15 4.15 0 1 0 -8.3 0M353.1 103.4a4.15 4.15 0 1 0 8.3 0a4.15 4.15 0 1 0 -8.3 0M354.8 103.4a4.15 4.15 0 1 0 8.3 0a4.15 4.15 0 1 0 -8.3 0M356.7 103.4a4.15 4.15 0 1 0 8.3 0a4.15 4.15 0 1 0 -8.3 0M358.8 103.4a4.15 4.15 0 1 0 8.3 0a4.15 4.15 0 1 0 -8.3 0M360.5 103.4a4.15 4.15 0 1 0 8.3 0a4.15 4.15 0 1 0 -8.3 0M362.2 103.4a4.15 4.15 0 1 0 8.3 0a4.15 4.15 0 1 0 -8.3 0M363.5 103.4a4.15 4.15 0 1 0 8.3 0a4.15 4.15 0 1 0 -8.3 0M365.5 103.4a4.15 4.15 0 1 0 8.3 0a4.15 4.15 0 1 0 -8.3 0M367.1 103.4a4.15 4.15 0 1 0 8.3 0a4.15 4.15 0 1 0 -8.3 0M368.8 103.4a4.15 4.15 0 1 0 8.3 0a4.15 4.15 0 1 0 -8.3 0M370.2 103.4a4.15 4.15 0 1 0 8.3 0a4.15 4.15 0 1 0 -8.3 0M372.6 103.4a4.15 4.15 0 1 0 8.3 0a4.15 4.15 0 1 0 -8.3 0M373.6 103.4a4.15 4.15 0 1 0 8.3 0a4.15 4.15 0 1 0 -8.3 0M376.1 103.4a4.15 4.15 0 1 0 8.3 0a4.15 4.15 0 1 0 -8.3 0M377.8 103.4a4.15 4.15 0 1 0 8.3 0a4.15 4.15 0 1 0 -8.3 0M378.6 103.4a4.15 4.15 0 1 0 8.3 0a4.15 4.15 0 1 0 -8.3 0M380.7 103.4a4.15 4.15 0 1 0 8.3 0a4.15 4.15 0 1 0 -8.3 0M382.8 103.4a4.15 4.15 0 1 0 8.3 0a4.15 4.15 0 1 0 -8.3 0M384.6 103.4a4.15 4.15 0 1 0 8.3 0a4.15 4.15 0 1 0 -8.3 0M385.8 103.4a4.15 4.15 0 1 0 8.3 0a4.15 4.15 0 1 0 -8.3 0M387.3 103.4a4.15 4.15 0 1 0 8.3 0a4.15 4.15 0 1 0 -8.3 0M389.0 103.4a4.15 4.15 0 1 0 8.3 0a4.15 4.15 0 1 0 -8.3 0M391.4 103.4a4.15 4.15 0 1 0 8.3 0a4.15 4.15 0 1 0 -8.3 0M392.4 103.4a4.15 4.15 0 1 0 8.3 0a4.15 4.15 0 1 0 -8.3 0M394.4 103.4a4.15 4.15 0 1 0 8.3 0a4.15 4.15 0 1 0 -8.3 0M395.7 103.4a4.15 4.15 0 1 0 8.3 0a4.15 4.15 0 1 0 -8.3 0M397.8 103.4a4.15 4.15 0 1 0 8.3 0a4.15 4.15 0 1 0 -8.3 0M399.9 103.4a4.15 4.15 0 1 0 8.3 0a4.15 4.15 0 1 0 -8.3 0M400.8 103.4a4.15 4.15 0 1 0 8.3 0a4.15 4.15 0 1 0 -8.3 0M403.2 103.4a4.15 4.15 0 1 0 8.3 0a4.15 4.15 0 1 0 -8.3 0M404.6 103.4a4.15 4.15 0 1 0 8.3 0a4.15 4.15 0 1 0 -8.3 0M406.6 103.4a4.15 4.15 0 1 0 8.3 0a4.15 4.15 0 1 0 -8.3 0M408.2 103.4a4.15 4.15 0 1 0 8.3 0a4.15 4.15 0 1 0 -8.3 0M409.4 103.4a4.15 4.15 0 1 0 8.3 0a4.15 4.15 0 1 0 -8.3 0M411.7 103.4a4.15 4.15 0 1 0 8.3 0a4.15 4.15 0 1 0 -8.3 0M413.0 103.4a4.15 4.15 0 1 0 8.3 0a4.15 4.15 0 1 0 -8.3 0M414.3 103.4a4.15 4.15 0 1 0 8.3 0a4.15 4.15 0 1 0 -8.3 0M416.0 103.4a4.15 4.15 0 1 0 8.3 0a4.15 4.15 0 1 0 -8.3 0M418.1 103.4a4.15 4.15 0 1 0 8.3 0a4.15 4.15 0 1 0 -8.3 0M419.8 103.4a4.15 4.15 0 1 0 8.3 0a4.15 4.15 0 1 0 -8.3 0M421.4 103.4a4.15 4.15 0 1 0 8.3 0a4.15 4.15 0 1 0 -8.3 0M422.9 103.4a4.15 4.15 0 1 0 8.3 0a4.15 4.15 0 1 0 -8.3 0M424.8 103.4a4.15 4.15 0 1 0 8.3 0a4.15 4.15 0 1 0 -8.3 0M426.5 103.4a4.15 4.15 0 1 0 8.3 0a4.15 4.15 0 1 0 -8.3 0M428.7 103.4a4.15 4.15 0 1 0 8.3 0a4.15 4.15 0 1 0 -8.3 0M429.6 103.4a4.15 4.15 0 1 0 8.3 0a4.15 4.15 0 1 0 -8.3 0M432.0 103.4a4.15 4.15 0 1 0 8.3 0a4.15 4.15 0 1 0 -8.3 0M433.8 103.4a4.15 4.15 0 1 0 8.3 0a4.15 4.15 0 1 0 -8.3 0M434.8 103.4a4.15 4.15 0 1 0 8.3 0a4.15 4.15 0 1 0 -8.3 0M437.3 103.4a4.15 4.15 0 1 0 8.3 0a4.15 4.15 0 1 0 -8.3 0M438.8 103.4a4.15 4.15 0 1 0 8.3 0a4.15 4.15 0 1 0 -8.3 0M440.7 103.4a4.15 4.15 0 1 0 8.3 0a4.15 4.15 0 1 0 -8.3 0M441.7 103.4a4.15 4.15 0 1 0 8.3 0a4.15 4.15 0 1 0 -8.3 0M443.5 103.4a4.15 4.15 0 1 0 8.3 0a4.15 4.15 0 1 0 -8.3 0M445.2 103.4a4.15 4.15 0 1 0 8.3 0a4.15 4.15 0 1 0 -8.3 0M447.5 103.4a4.15 4.15 0 1 0 8.3 0a4.15 4.15 0 1 0 -8.3 0M448.8 103.4a4.15 4.15 0 1 0 8.3 0a4.15 4.15 0 1 0 -8.3 0M450.3 103.4a4.15 4.15 0 1 0 8.3 0a4.15 4.15 0 1 0 -8.3 0M454.1 102.8a4.15 4.15 0 1 0 8.3 0a4.15 4.15 0 1 0 -8.3 0M458.2 102.8a4.15 4.15 0 1 0 8.3 0a4.15 4.15 0 1 0 -8.3 0M462.2 102.8a4.15 4.15 0 1 0 8.3 0a4.15 4.15 0 1 0 -8.3 0M473.6 102.8a4.15 4.15 0 1 0 8.3 0a4.15 4.15 0 1 0 -8.3 0M476.0 102.8a4.15 4.15 0 1 0 8.3 0a4.15 4.15 0 1 0 -8.3 0M489.8 102.8a4.15 4.15 0 1 0 8.3 0a4.15 4.15 0 1 0 -8.3 0M493.0 102.8a4.15 4.15 0 1 0 8.3 0a4.15 4.15 0 1 0 -8.3 0M496.2 102.8a4.15 4.15 0 1 0 8.3 0a4.15 4.15 0 1 0 -8.3 0M499.5 102.8a4.15 4.15 0 1 0 8.3 0a4.15 4.15 0 1 0 -8.3 0M506.8 102.8a4.15 4.15 0 1 0 8.3 0a4.15 4.15 0 1 0 -8.3 0M511.6 102.8a4.15 4.15 0 1 0 8.3 0a4.15 4.15 0 1 0 -8.3 0M450.8 102.8a4.15 4.15 0 1 0 8.3 0a4.15 4.15 0 1 0 -8.3 0M452.7 102.8a4.15 4.15 0 1 0 8.3 0a4.15 4.15 0 1 0 -8.3 0M454.6 102.8a4.15 4.15 0 1 0 8.3 0a4.15 4.15 0 1 0 -8.3 0M456.8 102.8a4.15 4.15 0 1 0 8.3 0a4.15 4.15 0 1 0 -8.3 0M459.6 102.8a4.15 4.15 0 1 0 8.3 0a4.15 4.15 0 1 0 -8.3 0M461.1 102.8a4.15 4.15 0 1 0 8.3 0a4.15 4.15 0 1 0 -8.3 0M463.9 102.8a4.15 4.15 0 1 0 8.3 0a4.15 4.15 0 1 0 -8.3 0M465.3 102.8a4.15 4.15 0 1 0 8.3 0a4.15 4.15 0 1 0 -8.3 0M467.4 102.8a4.15 4.15 0 1 0 8.3 0a4.15 4.15 0 1 0 -8.3 0M469.8 102.8a4.15 4.15 0 1 0 8.3 0a4.15 4.15 0 1 0 -8.3 0M471.5 102.8a4.15 4.15 0 1 0 8.3 0a4.15 4.15 0 1 0 -8.3 0M473.8 102.8a4.15 4.15 0 1 0 8.3 0a4.15 4.15 0 1 0 -8.3 0M476.5 102.8a4.15 4.15 0 1 0 8.3 0a4.15 4.15 0 1 0 -8.3 0M488.7 102.8a4.15 4.15 0 1 0 8.3 0a4.15 4.15 0 1 0 -8.3 0M491.2 102.8a4.15 4.15 0 1 0 8.3 0a4.15 4.15 0 1 0 -8.3 0M493.5 102.8a4.15 4.15 0 1 0 8.3 0a4.15 4.15 0 1 0 -8.3 0M496.3 102.8a4.15 4.15 0 1 0 8.3 0a4.15 4.15 0 1 0 -8.3 0M498.8 102.8a4.15 4.15 0 1 0 8.3 0a4.15 4.15 0 1 0 -8.3 0M500.9 102.8a4.15 4.15 0 1 0 8.3 0a4.15 4.15 0 1 0 -8.3 0M503.6 102.8a4.15 4.15 0 1 0 8.3 0a4.15 4.15 0 1 0 -8.3 0M505.4 102.8a4.15 4.15 0 1 0 8.3 0a4.15 4.15 0 1 0 -8.3 0M508.6 102.8a4.15 4.15 0 1 0 8.3 0a4.15 4.15 0 1 0 -8.3 0M510.8 102.8a4.15 4.15 0 1 0 8.3 0a4.15 4.15 0 1 0 -8.3 0M429.1 108.3a4.15 4.15 0 1 0 8.3 0a4.15 4.15 0 1 0 -8.3 0M432.2 108.3a4.15 4.15 0 1 0 8.3 0a4.15 4.15 0 1 0 -8.3 0M435.0 108.3a4.15 4.15 0 1 0 8.3 0a4.15 4.15 0 1 0 -8.3 0M438.0 108.3a4.15 4.15 0 1 0 8.3 0a4.15 4.15 0 1 0 -8.3 0M442.1 108.3a4.15 4.15 0 1 0 8.3 0a4.15 4.15 0 1 0 -8.3 0M441.5 108.3a4.15 4.15 0 1 0 8.3 0a4.15 4.15 0 1 0 -8.3 0M444.2 108.3a4.15 4.15 0 1 0 8.3 0a4.15 4.15 0 1 0 -8.3 0M446.5 108.3a4.15 4.15 0 1 0 8.3 0a4.15 4.15 0 1 0 -8.3 0M448.8 108.3a4.15 4.15 0 1 0 8.3 0a4.15 4.15 0 1 0 -8.3 0M451.7 108.3a4.15 4.15 0 1 0 8.3 0a4.15 4.15 0 1 0 -8.3 0M454.3 108.3a4.15 4.15 0 1 0 8.3 0a4.15 4.15 0 1 0 -8.3 0M456.0 108.3a4.15 4.15 0 1 0 8.3 0a4.15 4.15 0 1 0 -8.3 0M458.8 108.3a4.15 4.15 0 1 0 8.3 0a4.15 4.15 0 1 0 -8.3 0M460.9 108.3a4.15 4.15 0 1 0 8.3 0a4.15 4.15 0 1 0 -8.3 0M463.5 108.3a4.15 4.15 0 1 0 8.3 0a4.15 4.15 0 1 0 -8.3 0M465.7 108.3a4.15 4.15 0 1 0 8.3 0a4.15 4.15 0 1 0 -8.3 0M467.9 108.3a4.15 4.15 0 1 0 8.3 0a4.15 4.15 0 1 0 -8.3 0M470.3 108.3a4.15 4.15 0 1 0 8.3 0a4.15 4.15 0 1 0 -8.3 0M452.5 108.3a4.15 4.15 0 1 0 8.3 0a4.15 4.15 0 1 0 -8.3 0M457.4 108.3a4.15 4.15 0 1 0 8.3 0a4.15 4.15 0 1 0 -8.3 0M465.5 108.3a4.15 4.15 0 1 0 8.3 0a4.15 4.15 0 1 0 -8.3 0M470.2 108.3a4.15 4.15 0 1 0 8.3 0a4.15 4.15 0 1 0 -8.3 0M483.2 108.3a4.15 4.15 0 1 0 8.3 0a4.15 4.15 0 1 0 -8.3 0M489.8 108.3a4.15 4.15 0 1 0 8.3 0a4.15 4.15 0 1 0 -8.3 0M493.0 108.3a4.15 4.15 0 1 0 8.3 0a4.15 4.15 0 1 0 -8.3 0M497.1 108.3a4.15 4.15 0 1 0 8.3 0a4.15 4.15 0 1 0 -8.3 0M486.6 108.3a4.15 4.15 0 1 0 8.3 0a4.15 4.15 0 1 0 -8.3 0M489.5 108.3a4.15 4.15 0 1 0 8.3 0a4.15 4.15 0 1 0 -8.3 0M491.4 108.3a4.15 4.15 0 1 0 8.3 0a4.15 4.15 0 1 0 -8.3 0M493.5 108.3a4.15 4.15 0 1 0 8.3 0a4.15 4.15 0 1 0 -8.3 0M496.4 108.3a4.15 4.15 0 1 0 8.3 0a4.15 4.15 0 1 0 -8.3 0M498.7 108.3a4.15 4.15 0 1 0 8.3 0a4.15 4.15 0 1 0 -8.3 0M49.1 112.8a4.15 4.15 0 1 0 8.3 0a4.15 4.15 0 1 0 -8.3 0M139.2 112.8a4.15 4.15 0 1 0 8.3 0a4.15 4.15 0 1 0 -8.3 0M149.2 112.8a4.15 4.15 0 1 0 8.3 0a4.15 4.15 0 1 0 -8.3 0M180.2 112.8a4.15 4.15 0 1 0 8.3 0a4.15 4.15 0 1 0 -8.3 0M216.2 112.8a4.15 4.15 0 1 0 8.3 0a4.15 4.15 0 1 0 -8.3 0M261.7 112.8a4.15 4.15 0 1 0 8.3 0a4.15 4.15 0 1 0 -8.3 0M274.9 112.8a4.15 4.15 0 1 0 8.3 0a4.15 4.15 0 1 0 -8.3 0M277.4 112.8a4.15 4.15 0 1 0 8.3 0a4.15 4.15 0 1 0 -8.3 0M280.6 112.8a4.15 4.15 0 1 0 8.3 0a4.15 4.15 0 1 0 -8.3 0M283.7 112.8a4.15 4.15 0 1 0 8.3 0a4.15 4.15 0 1 0 -8.3 0M288.8 112.8a4.15 4.15 0 1 0 8.3 0a4.15 4.15 0 1 0 -8.3 0M298.1 112.8a4.15 4.15 0 1 0 8.3 0a4.15 4.15 0 1 0 -8.3 0M306.2 112.8a4.15 4.15 0 1 0 8.3 0a4.15 4.15 0 1 0 -8.3 0M311.0 112.8a4.15 4.15 0 1 0 8.3 0a4.15 4.15 0 1 0 -8.3 0M315.4 112.8a4.15 4.15 0 1 0 8.3 0a4.15 4.15 0 1 0 -8.3 0M317.4 112.8a4.15 4.15 0 1 0 8.3 0a4.15 4.15 0 1 0 -8.3 0M319.9 112.8a4.15 4.15 0 1 0 8.3 0a4.15 4.15 0 1 0 -8.3 0M321.9 112.8a4.15 4.15 0 1 0 8.3 0a4.15 4.15 0 1 0 -8.3 0M324.4 112.8a4.15 4.15 0 1 0 8.3 0a4.15 4.15 0 1 0 -8.3 0M327.9 112.8a4.15 4.15 0 1 0 8.3 0a4.15 4.15 0 1 0 -8.3 0M331.6 112.8a4.15 4.15 0 1 0 8.3 0a4.15 4.15 0 1 0 -8.3 0M333.8 112.8a4.15 4.15 0 1 0 8.3 0a4.15 4.15 0 1 0 -8.3 0M335.2 112.8a4.15 4.15 0 1 0 8.3 0a4.15 4.15 0 1 0 -8.3 0M336.9 112.8a4.15 4.15 0 1 0 8.3 0a4.15 4.15 0 1 0 -8.3 0M338.5 112.8a4.15 4.15 0 1 0 8.3 0a4.15 4.15 0 1 0 -8.3 0M340.5 112.8a4.15 4.15 0 1 0 8.3 0a4.15 4.15 0 1 0 -8.3 0M341.9 112.8a4.15 4.15 0 1 0 8.3 0a4.15 4.15 0 1 0 -8.3 0M343.8 112.8a4.15 4.15 0 1 0 8.3 0a4.15 4.15 0 1 0 -8.3 0M345.5 112.8a4.15 4.15 0 1 0 8.3 0a4.15 4.15 0 1 0 -8.3 0M347.5 112.8a4.15 4.15 0 1 0 8.3 0a4.15 4.15 0 1 0 -8.3 0M349.5 112.8a4.15 4.15 0 1 0 8.3 0a4.15 4.15 0 1 0 -8.3 0M351.1 112.8a4.15 4.15 0 1 0 8.3 0a4.15 4.15 0 1 0 -8.3 0M352.5 112.8a4.15 4.15 0 1 0 8.3 0a4.15 4.15 0 1 0 -8.3 0M354.2 112.8a4.15 4.15 0 1 0 8.3 0a4.15 4.15 0 1 0 -8.3 0M356.0 112.8a4.15 4.15 0 1 0 8.3 0a4.15 4.15 0 1 0 -8.3 0M357.5 112.8a4.15 4.15 0 1 0 8.3 0a4.15 4.15 0 1 0 -8.3 0M359.2 112.8a4.15 4.15 0 1 0 8.3 0a4.15 4.15 0 1 0 -8.3 0M360.6 112.8a4.15 4.15 0 1 0 8.3 0a4.15 4.15 0 1 0 -8.3 0M362.5 112.8a4.15 4.15 0 1 0 8.3 0a4.15 4.15 0 1 0 -8.3 0M364.9 112.8a4.15 4.15 0 1 0 8.3 0a4.15 4.15 0 1 0 -8.3 0M365.8 112.8a4.15 4.15 0 1 0 8.3 0a4.15 4.15 0 1 0 -8.3 0M367.9 112.8a4.15 4.15 0 1 0 8.3 0a4.15 4.15 0 1 0 -8.3 0M369.7 112.8a4.15 4.15 0 1 0 8.3 0a4.15 4.15 0 1 0 -8.3 0M371.6 112.8a4.15 4.15 0 1 0 8.3 0a4.15 4.15 0 1 0 -8.3 0M372.7 112.8a4.15 4.15 0 1 0 8.3 0a4.15 4.15 0 1 0 -8.3 0M374.4 112.8a4.15 4.15 0 1 0 8.3 0a4.15 4.15 0 1 0 -8.3 0M376.1 112.8a4.15 4.15 0 1 0 8.3 0a4.15 4.15 0 1 0 -8.3 0M377.9 112.8a4.15 4.15 0 1 0 8.3 0a4.15 4.15 0 1 0 -8.3 0M379.7 112.8a4.15 4.15 0 1 0 8.3 0a4.15 4.15 0 1 0 -8.3 0M383.3 112.8a4.15 4.15 0 1 0 8.3 0a4.15 4.15 0 1 0 -8.3 0M385.8 112.8a4.15 4.15 0 1 0 8.3 0a4.15 4.15 0 1 0 -8.3 0M388.4 112.8a4.15 4.15 0 1 0 8.3 0a4.15 4.15 0 1 0 -8.3 0M390.2 112.8a4.15 4.15 0 1 0 8.3 0a4.15 4.15 0 1 0 -8.3 0M392.8 112.8a4.15 4.15 0 1 0 8.3 0a4.15 4.15 0 1 0 -8.3 0M396.1 112.8a4.15 4.15 0 1 0 8.3 0a4.15 4.15 0 1 0 -8.3 0M399.5 112.8a4.15 4.15 0 1 0 8.3 0a4.15 4.15 0 1 0 -8.3 0M403.0 112.8a4.15 4.15 0 1 0 8.3 0a4.15 4.15 0 1 0 -8.3 0M407.4 112.8a4.15 4.15 0 1 0 8.3 0a4.15 4.15 0 1 0 -8.3 0M410.7 112.8a4.15 4.15 0 1 0 8.3 0a4.15 4.15 0 1 0 -8.3 0M415.5 112.8a4.15 4.15 0 1 0 8.3 0a4.15 4.15 0 1 0 -8.3 0M288.1 124.0a4.15 4.15 0 1 0 8.3 0a4.15 4.15 0 1 0 -8.3 0M301.4 122.8a4.15 4.15 0 1 0 8.3 0a4.15 4.15 0 1 0 -8.3 0M336.2 124.5a4.15 4.15 0 1 0 8.3 0a4.15 4.15 0 1 0 -8.3 0M353.2 124.5a4.15 4.15 0 1 0 8.3 0a4.15 4.15 0 1 0 -8.3 0M364.3 123.2a4.15 4.15 0 1 0 8.3 0a4.15 4.15 0 1 0 -8.3 0M366.3 123.2a4.15 4.15 0 1 0 8.3 0a4.15 4.15 0 1 0 -8.3 0M368.4 123.2a4.15 4.15 0 1 0 8.3 0a4.15 4.15 0 1 0 -8.3 0M370.6 123.2a4.15 4.15 0 1 0 8.3 0a4.15 4.15 0 1 0 -8.3 0M372.0 123.2a4.15 4.15 0 1 0 8.3 0a4.15 4.15 0 1 0 -8.3 0M374.0 123.2a4.15 4.15 0 1 0 8.3 0a4.15 4.15 0 1 0 -8.3 0M376.1 123.2a4.15 4.15 0 1 0 8.3 0a4.15 4.15 0 1 0 -8.3 0M378.6 123.2a4.15 4.15 0 1 0 8.3 0a4.15 4.15 0 1 0 -8.3 0M380.8 123.2a4.15 4.15 0 1 0 8.3 0a4.15 4.15 0 1 0 -8.3 0M383.2 123.2a4.15 4.15 0 1 0 8.3 0a4.15 4.15 0 1 0 -8.3 0M385.1 123.2a4.15 4.15 0 1 0 8.3 0a4.15 4.15 0 1 0 -8.3 0M387.1 123.2a4.15 4.15 0 1 0 8.3 0a4.15 4.15 0 1 0 -8.3 0M389.3 123.2a4.15 4.15 0 1 0 8.3 0a4.15 4.15 0 1 0 -8.3 0M391.1 123.2a4.15 4.15 0 1 0 8.3 0a4.15 4.15 0 1 0 -8.3 0M393.3 123.2a4.15 4.15 0 1 0 8.3 0a4.15 4.15 0 1 0 -8.3 0M394.9 123.2a4.15 4.15 0 1 0 8.3 0a4.15 4.15 0 1 0 -8.3 0M397.7 123.2a4.15 4.15 0 1 0 8.3 0a4.15 4.15 0 1 0 -8.3 0M399.3 123.2a4.15 4.15 0 1 0 8.3 0a4.15 4.15 0 1 0 -8.3 0M402.1 123.2a4.15 4.15 0 1 0 8.3 0a4.15 4.15 0 1 0 -8.3 0M403.9 123.2a4.15 4.15 0 1 0 8.3 0a4.15 4.15 0 1 0 -8.3 0M405.7 123.2a4.15 4.15 0 1 0 8.3 0a4.15 4.15 0 1 0 -8.3 0M407.6 123.2a4.15 4.15 0 1 0 8.3 0a4.15 4.15 0 1 0 -8.3 0M409.8 123.2a4.15 4.15 0 1 0 8.3 0a4.15 4.15 0 1 0 -8.3 0M412.3 123.2a4.15 4.15 0 1 0 8.3 0a4.15 4.15 0 1 0 -8.3 0M414.4 123.2a4.15 4.15 0 1 0 8.3 0a4.15 4.15 0 1 0 -8.3 0M416.0 123.2a4.15 4.15 0 1 0 8.3 0a4.15 4.15 0 1 0 -8.3 0M83.0 132.8a4.15 4.15 0 1 0 8.3 0a4.15 4.15 0 1 0 -8.3 0M250.8 132.8a4.15 4.15 0 1 0 8.3 0a4.15 4.15 0 1 0 -8.3 0M291.2 132.8a4.15 4.15 0 1 0 8.3 0a4.15 4.15 0 1 0 -8.3 0M318.6 132.8a4.15 4.15 0 1 0 8.3 0a4.15 4.15 0 1 0 -8.3 0M322.4 132.8a4.15 4.15 0 1 0 8.3 0a4.15 4.15 0 1 0 -8.3 0M325.9 132.8a4.15 4.15 0 1 0 8.3 0a4.15 4.15 0 1 0 -8.3 0M329.9 132.8a4.15 4.15 0 1 0 8.3 0a4.15 4.15 0 1 0 -8.3 0M333.7 132.8a4.15 4.15 0 1 0 8.3 0a4.15 4.15 0 1 0 -8.3 0M340.3 132.8a4.15 4.15 0 1 0 8.3 0a4.15 4.15 0 1 0 -8.3 0M344.1 132.8a4.15 4.15 0 1 0 8.3 0a4.15 4.15 0 1 0 -8.3 0M347.3 132.8a4.15 4.15 0 1 0 8.3 0a4.15 4.15 0 1 0 -8.3 0M350.3 132.8a4.15 4.15 0 1 0 8.3 0a4.15 4.15 0 1 0 -8.3 0M353.3 132.8a4.15 4.15 0 1 0 8.3 0a4.15 4.15 0 1 0 -8.3 0M357.0 132.8a4.15 4.15 0 1 0 8.3 0a4.15 4.15 0 1 0 -8.3 0M359.5 132.8a4.15 4.15 0 1 0 8.3 0a4.15 4.15 0 1 0 -8.3 0M363.0 132.8a4.15 4.15 0 1 0 8.3 0a4.15 4.15 0 1 0 -8.3 0M366.4 132.8a4.15 4.15 0 1 0 8.3 0a4.15 4.15 0 1 0 -8.3 0M370.2 132.8a4.15 4.15 0 1 0 8.3 0a4.15 4.15 0 1 0 -8.3 0M373.4 132.8a4.15 4.15 0 1 0 8.3 0a4.15 4.15 0 1 0 -8.3 0M380.4 132.8a4.15 4.15 0 1 0 8.3 0a4.15 4.15 0 1 0 -8.3 0M384.9 132.8a4.15 4.15 0 1 0 8.3 0a4.15 4.15 0 1 0 -8.3 0M387.4 132.8a4.15 4.15 0 1 0 8.3 0a4.15 4.15 0 1 0 -8.3 0M391.9 132.8a4.15 4.15 0 1 0 8.3 0a4.15 4.15 0 1 0 -8.3 0M395.9 132.8a4.15 4.15 0 1 0 8.3 0a4.15 4.15 0 1 0 -8.3 0M407.9 132.8a4.15 4.15 0 1 0 8.3 0a4.15 4.15 0 1 0 -8.3 0M411.9 132.8a4.15 4.15 0 1 0 8.3 0a4.15 4.15 0 1 0 -8.3 0M415.4 132.8a4.15 4.15 0 1 0 8.3 0a4.15 4.15 0 1 0 -8.3 0M419.4 132.8a4.15 4.15 0 1 0 8.3 0a4.15 4.15 0 1 0 -8.3 0M422.9 132.8a4.15 4.15 0 1 0 8.3 0a4.15 4.15 0 1 0 -8.3 0M431.4 132.8a4.15 4.15 0 1 0 8.3 0a4.15 4.15 0 1 0 -8.3 0M434.4 132.8a4.15 4.15 0 1 0 8.3 0a4.15 4.15 0 1 0 -8.3 0M432.4 132.8a4.15 4.15 0 1 0 8.3 0a4.15 4.15 0 1 0 -8.3 0M181.4 141.0a4.15 4.15 0 1 0 8.3 0a4.15 4.15 0 1 0 -8.3 0M188.7 141.0a4.15 4.15 0 1 0 8.3 0a4.15 4.15 0 1 0 -8.3 0M258.5 141.0a4.15 4.15 0 1 0 8.3 0a4.15 4.15 0 1 0 -8.3 0M270.5 140.2a4.15 4.15 0 1 0 8.3 0a4.15 4.15 0 1 0 -8.3 0M294.4 140.2a4.15 4.15 0 1 0 8.3 0a4.15 4.15 0 1 0 -8.3 0M318.1 139.6a4.15 4.15 0 1 0 8.3 0a4.15 4.15 0 1 0 -8.3 0M330.5 139.6a4.15 4.15 0 1 0 8.3 0a4.15 4.15 0 1 0 -8.3 0M336.0 141.0a4.15 4.15 0 1 0 8.3 0a4.15 4.15 0 1 0 -8.3 0M338.4 141.0a4.15 4.15 0 1 0 8.3 0a4.15 4.15 0 1 0 -8.3 0M340.2 141.0a4.15 4.15 0 1 0 8.3 0a4.15 4.15 0 1 0 -8.3 0M342.2 141.0a4.15 4.15 0 1 0 8.3 0a4.15 4.15 0 1 0 -8.3 0M344.4 141.0a4.15 4.15 0 1 0 8.3 0a4.15 4.15 0 1 0 -8.3 0M347.3 141.0a4.15 4.15 0 1 0 8.3 0a4.15 4.15 0 1 0 -8.3 0M349.3 141.0a4.15 4.15 0 1 0 8.3 0a4.15 4.15 0 1 0 -8.3 0M351.1 141.0a4.15 4.15 0 1 0 8.3 0a4.15 4.15 0 1 0 -8.3 0M353.0 141.0a4.15 4.15 0 1 0 8.3 0a4.15 4.15 0 1 0 -8.3 0M355.6 141.0a4.15 4.15 0 1 0 8.3 0a4.15 4.15 0 1 0 -8.3 0M358.0 141.0a4.15 4.15 0 1 0 8.3 0a4.15 4.15 0 1 0 -8.3 0M360.0 141.0a4.15 4.15 0 1 0 8.3 0a4.15 4.15 0 1 0 -8.3 0M362.0 141.0a4.15 4.15 0 1 0 8.3 0a4.15 4.15 0 1 0 -8.3 0M364.6 141.0a4.15 4.15 0 1 0 8.3 0a4.15 4.15 0 1 0 -8.3 0M367.1 141.0a4.15 4.15 0 1 0 8.3 0a4.15 4.15 0 1 0 -8.3 0M368.6 141.0a4.15 4.15 0 1 0 8.3 0a4.15 4.15 0 1 0 -8.3 0M370.6 141.0a4.15 4.15 0 1 0 8.3 0a4.15 4.15 0 1 0 -8.3 0M373.1 141.0a4.15 4.15 0 1 0 8.3 0a4.15 4.15 0 1 0 -8.3 0M375.4 141.0a4.15 4.15 0 1 0 8.3 0a4.15 4.15 0 1 0 -8.3 0M377.8 141.0a4.15 4.15 0 1 0 8.3 0a4.15 4.15 0 1 0 -8.3 0M379.5 141.0a4.15 4.15 0 1 0 8.3 0a4.15 4.15 0 1 0 -8.3 0M382.3 141.0a4.15 4.15 0 1 0 8.3 0a4.15 4.15 0 1 0 -8.3 0M384.5 141.0a4.15 4.15 0 1 0 8.3 0a4.15 4.15 0 1 0 -8.3 0M386.5 141.0a4.15 4.15 0 1 0 8.3 0a4.15 4.15 0 1 0 -8.3 0M388.4 141.0a4.15 4.15 0 1 0 8.3 0a4.15 4.15 0 1 0 -8.3 0M391.3 141.0a4.15 4.15 0 1 0 8.3 0a4.15 4.15 0 1 0 -8.3 0M392.9 141.0a4.15 4.15 0 1 0 8.3 0a4.15 4.15 0 1 0 -8.3 0M395.6 141.0a4.15 4.15 0 1 0 8.3 0a4.15 4.15 0 1 0 -8.3 0M397.2 141.0a4.15 4.15 0 1 0 8.3 0a4.15 4.15 0 1 0 -8.3 0M399.4 141.0a4.15 4.15 0 1 0 8.3 0a4.15 4.15 0 1 0 -8.3 0M402.1 141.0a4.15 4.15 0 1 0 8.3 0a4.15 4.15 0 1 0 -8.3 0M403.8 141.0a4.15 4.15 0 1 0 8.3 0a4.15 4.15 0 1 0 -8.3 0M406.7 141.0a4.15 4.15 0 1 0 8.3 0a4.15 4.15 0 1 0 -8.3 0M408.4 141.0a4.15 4.15 0 1 0 8.3 0a4.15 4.15 0 1 0 -8.3 0M410.3 141.0a4.15 4.15 0 1 0 8.3 0a4.15 4.15 0 1 0 -8.3 0M412.6 141.0a4.15 4.15 0 1 0 8.3 0a4.15 4.15 0 1 0 -8.3 0M415.0 141.0a4.15 4.15 0 1 0 8.3 0a4.15 4.15 0 1 0 -8.3 0M417.4 141.0a4.15 4.15 0 1 0 8.3 0a4.15 4.15 0 1 0 -8.3 0M419.9 141.0a4.15 4.15 0 1 0 8.3 0a4.15 4.15 0 1 0 -8.3 0M421.3 141.0a4.15 4.15 0 1 0 8.3 0a4.15 4.15 0 1 0 -8.3 0M423.7 141.0a4.15 4.15 0 1 0 8.3 0a4.15 4.15 0 1 0 -8.3 0M425.8 141.0a4.15 4.15 0 1 0 8.3 0a4.15 4.15 0 1 0 -8.3 0M428.7 141.0a4.15 4.15 0 1 0 8.3 0a4.15 4.15 0 1 0 -8.3 0M430.1 141.0a4.15 4.15 0 1 0 8.3 0a4.15 4.15 0 1 0 -8.3 0M432.2 141.0a4.15 4.15 0 1 0 8.3 0a4.15 4.15 0 1 0 -8.3 0M434.4 141.0a4.15 4.15 0 1 0 8.3 0a4.15 4.15 0 1 0 -8.3 0M123.6 145.2a4.15 4.15 0 1 0 8.3 0a4.15 4.15 0 1 0 -8.3 0M166.2 145.2a4.15 4.15 0 1 0 8.3 0a4.15 4.15 0 1 0 -8.3 0M209.2 145.2a4.15 4.15 0 1 0 8.3 0a4.15 4.15 0 1 0 -8.3 0M211.3 145.2a4.15 4.15 0 1 0 8.3 0a4.15 4.15 0 1 0 -8.3 0M213.5 145.2a4.15 4.15 0 1 0 8.3 0a4.15 4.15 0 1 0 -8.3 0M238.8 145.2a4.15 4.15 0 1 0 8.3 0a4.15 4.15 0 1 0 -8.3 0M266.1 145.2a4.15 4.15 0 1 0 8.3 0a4.15 4.15 0 1 0 -8.3 0M268.6 145.2a4.15 4.15 0 1 0 8.3 0a4.15 4.15 0 1 0 -8.3 0M271.1 145.2a4.15 4.15 0 1 0 8.3 0a4.15 4.15 0 1 0 -8.3 0M273.0 145.2a4.15 4.15 0 1 0 8.3 0a4.15 4.15 0 1 0 -8.3 0M286.9 145.2a4.15 4.15 0 1 0 8.3 0a4.15 4.15 0 1 0 -8.3 0M290.0 145.2a4.15 4.15 0 1 0 8.3 0a4.15 4.15 0 1 0 -8.3 0M292.6 145.2a4.15 4.15 0 1 0 8.3 0a4.15 4.15 0 1 0 -8.3 0M295.1 145.2a4.15 4.15 0 1 0 8.3 0a4.15 4.15 0 1 0 -8.3 0M301.8 145.2a4.15 4.15 0 1 0 8.3 0a4.15 4.15 0 1 0 -8.3 0M304.9 145.2a4.15 4.15 0 1 0 8.3 0a4.15 4.15 0 1 0 -8.3 0M307.6 145.2a4.15 4.15 0 1 0 8.3 0a4.15 4.15 0 1 0 -8.3 0M310.1 145.2a4.15 4.15 0 1 0 8.3 0a4.15 4.15 0 1 0 -8.3 0M313.0 145.2a4.15 4.15 0 1 0 8.3 0a4.15 4.15 0 1 0 -8.3 0M315.7 145.2a4.15 4.15 0 1 0 8.3 0a4.15 4.15 0 1 0 -8.3 0M317.9 145.2a4.15 4.15 0 1 0 8.3 0a4.15 4.15 0 1 0 -8.3 0M320.5 145.2a4.15 4.15 0 1 0 8.3 0a4.15 4.15 0 1 0 -8.3 0M323.8 145.2a4.15 4.15 0 1 0 8.3 0a4.15 4.15 0 1 0 -8.3 0M331.7 145.2a4.15 4.15 0 1 0 8.3 0a4.15 4.15 0 1 0 -8.3 0M332.9 145.2a4.15 4.15 0 1 0 8.3 0a4.15 4.15 0 1 0 -8.3 0M335.1 145.2a4.15 4.15 0 1 0 8.3 0a4.15 4.15 0 1 0 -8.3 0M336.6 145.2a4.15 4.15 0 1 0 8.3 0a4.15 4.15 0 1 0 -8.3 0M338.2 145.2a4.15 4.15 0 1 0 8.3 0a4.15 4.15 0 1 0 -8.3 0M339.9 145.2a4.15 4.15 0 1 0 8.3 0a4.15 4.15 0 1 0 -8.3 0M341.5 145.2a4.15 4.15 0 1 0 8.3 0a4.15 4.15 0 1 0 -8.3 0M343.1 145.2a4.15 4.15 0 1 0 8.3 0a4.15 4.15 0 1 0 -8.3 0M345.0 145.2a4.15 4.15 0 1 0 8.3 0a4.15 4.15 0 1 0 -8.3 0M346.7 145.2a4.15 4.15 0 1 0 8.3 0a4.15 4.15 0 1 0 -8.3 0M348.9 145.2a4.15 4.15 0 1 0 8.3 0a4.15 4.15 0 1 0 -8.3 0M349.9 145.2a4.15 4.15 0 1 0 8.3 0a4.15 4.15 0 1 0 -8.3 0M352.3 145.2a4.15 4.15 0 1 0 8.3 0a4.15 4.15 0 1 0 -8.3 0M353.4 145.2a4.15 4.15 0 1 0 8.3 0a4.15 4.15 0 1 0 -8.3 0M355.2 145.2a4.15 4.15 0 1 0 8.3 0a4.15 4.15 0 1 0 -8.3 0M357.3 145.2a4.15 4.15 0 1 0 8.3 0a4.15 4.15 0 1 0 -8.3 0M359.0 145.2a4.15 4.15 0 1 0 8.3 0a4.15 4.15 0 1 0 -8.3 0M360.4 145.2a4.15 4.15 0 1 0 8.3 0a4.15 4.15 0 1 0 -8.3 0M361.8 145.2a4.15 4.15 0 1 0 8.3 0a4.15 4.15 0 1 0 -8.3 0M363.8 145.2a4.15 4.15 0 1 0 8.3 0a4.15 4.15 0 1 0 -8.3 0M365.4 145.2a4.15 4.15 0 1 0 8.3 0a4.15 4.15 0 1 0 -8.3 0M367.6 145.2a4.15 4.15 0 1 0 8.3 0a4.15 4.15 0 1 0 -8.3 0M368.7 145.2a4.15 4.15 0 1 0 8.3 0a4.15 4.15 0 1 0 -8.3 0M370.5 145.2a4.15 4.15 0 1 0 8.3 0a4.15 4.15 0 1 0 -8.3 0M372.7 145.2a4.15 4.15 0 1 0 8.3 0a4.15 4.15 0 1 0 -8.3 0M373.7 145.2a4.15 4.15 0 1 0 8.3 0a4.15 4.15 0 1 0 -8.3 0M375.7 145.2a4.15 4.15 0 1 0 8.3 0a4.15 4.15 0 1 0 -8.3 0M377.7 145.2a4.15 4.15 0 1 0 8.3 0a4.15 4.15 0 1 0 -8.3 0M379.4 145.2a4.15 4.15 0 1 0 8.3 0a4.15 4.15 0 1 0 -8.3 0M380.5 145.2a4.15 4.15 0 1 0 8.3 0a4.15 4.15 0 1 0 -8.3 0M382.2 145.2a4.15 4.15 0 1 0 8.3 0a4.15 4.15 0 1 0 -8.3 0M383.9 145.2a4.15 4.15 0 1 0 8.3 0a4.15 4.15 0 1 0 -8.3 0M386.3 145.2a4.15 4.15 0 1 0 8.3 0a4.15 4.15 0 1 0 -8.3 0M387.5 145.2a4.15 4.15 0 1 0 8.3 0a4.15 4.15 0 1 0 -8.3 0M389.5 145.2a4.15 4.15 0 1 0 8.3 0a4.15 4.15 0 1 0 -8.3 0M391.4 145.2a4.15 4.15 0 1 0 8.3 0a4.15 4.15 0 1 0 -8.3 0M392.6 145.2a4.15 4.15 0 1 0 8.3 0a4.15 4.15 0 1 0 -8.3 0M394.3 145.2a4.15 4.15 0 1 0 8.3 0a4.15 4.15 0 1 0 -8.3 0M396.5 145.2a4.15 4.15 0 1 0 8.3 0a4.15 4.15 0 1 0 -8.3 0M397.9 145.2a4.15 4.15 0 1 0 8.3 0a4.15 4.15 0 1 0 -8.3 0M399.4 145.2a4.15 4.15 0 1 0 8.3 0a4.15 4.15 0 1 0 -8.3 0M401.4 145.2a4.15 4.15 0 1 0 8.3 0a4.15 4.15 0 1 0 -8.3 0M402.8 145.2a4.15 4.15 0 1 0 8.3 0a4.15 4.15 0 1 0 -8.3 0M404.5 145.2a4.15 4.15 0 1 0 8.3 0a4.15 4.15 0 1 0 -8.3 0M406.0 145.2a4.15 4.15 0 1 0 8.3 0a4.15 4.15 0 1 0 -8.3 0M408.3 145.2a4.15 4.15 0 1 0 8.3 0a4.15 4.15 0 1 0 -8.3 0M410.1 145.2a4.15 4.15 0 1 0 8.3 0a4.15 4.15 0 1 0 -8.3 0M411.6 145.2a4.15 4.15 0 1 0 8.3 0a4.15 4.15 0 1 0 -8.3 0M413.5 145.2a4.15 4.15 0 1 0 8.3 0a4.15 4.15 0 1 0 -8.3 0M414.5 145.2a4.15 4.15 0 1 0 8.3 0a4.15 4.15 0 1 0 -8.3 0M416.3 145.2a4.15 4.15 0 1 0 8.3 0a4.15 4.15 0 1 0 -8.3 0M418.2 145.2a4.15 4.15 0 1 0 8.3 0a4.15 4.15 0 1 0 -8.3 0M420.3 145.2a4.15 4.15 0 1 0 8.3 0a4.15 4.15 0 1 0 -8.3 0M422.0 145.2a4.15 4.15 0 1 0 8.3 0a4.15 4.15 0 1 0 -8.3 0M423.3 145.2a4.15 4.15 0 1 0 8.3 0a4.15 4.15 0 1 0 -8.3 0M424.9 145.2a4.15 4.15 0 1 0 8.3 0a4.15 4.15 0 1 0 -8.3 0M426.7 145.2a4.15 4.15 0 1 0 8.3 0a4.15 4.15 0 1 0 -8.3 0M428.4 145.2a4.15 4.15 0 1 0 8.3 0a4.15 4.15 0 1 0 -8.3 0M430.5 145.2a4.15 4.15 0 1 0 8.3 0a4.15 4.15 0 1 0 -8.3 0M431.6 145.2a4.15 4.15 0 1 0 8.3 0a4.15 4.15 0 1 0 -8.3 0M433.8 145.2a4.15 4.15 0 1 0 8.3 0a4.15 4.15 0 1 0 -8.3 0M440.6 145.2a4.15 4.15 0 1 0 8.3 0a4.15 4.15 0 1 0 -8.3 0M452.7 145.2a4.15 4.15 0 1 0 8.3 0a4.15 4.15 0 1 0 -8.3 0M299.1 150.6a4.15 4.15 0 1 0 8.3 0a4.15 4.15 0 1 0 -8.3 0M300.1 150.6a4.15 4.15 0 1 0 8.3 0a4.15 4.15 0 1 0 -8.3 0M289.4 150.6a4.15 4.15 0 1 0 8.3 0a4.15 4.15 0 1 0 -8.3 0M329.2 150.6a4.15 4.15 0 1 0 8.3 0a4.15 4.15 0 1 0 -8.3 0M330.4 150.6a4.15 4.15 0 1 0 8.3 0a4.15 4.15 0 1 0 -8.3 0M344.4 150.6a4.15 4.15 0 1 0 8.3 0a4.15 4.15 0 1 0 -8.3 0M345.6 150.6a4.15 4.15 0 1 0 8.3 0a4.15 4.15 0 1 0 -8.3 0M355.4 152.6a4.15 4.15 0 1 0 8.3 0a4.15 4.15 0 1 0 -8.3 0M356.2 150.6a4.15 4.15 0 1 0 8.3 0a4.15 4.15 0 1 0 -8.3 0M368.2 150.6a4.15 4.15 0 1 0 8.3 0a4.15 4.15 0 1 0 -8.3 0M132.7 160.1a4.15 4.15 0 1 0 8.3 0a4.15 4.15 0 1 0 -8.3 0M274.2 159.6a4.15 4.15 0 1 0 8.3 0a4.15 4.15 0 1 0 -8.3 0M279.9 159.6a4.15 4.15 0 1 0 8.3 0a4.15 4.15 0 1 0 -8.3 0M288.1 158.2a4.15 4.15 0 1 0 8.3 0a4.15 4.15 0 1 0 -8.3 0M294.4 159.6a4.15 4.15 0 1 0 8.3 0a4.15 4.15 0 1 0 -8.3 0M307.7 159.6a4.15 4.15 0 1 0 8.3 0a4.15 4.15 0 1 0 -8.3 0M318.5 159.6a4.15 4.15 0 1 0 8.3 0a4.15 4.15 0 1 0 -8.3 0M338.7 159.6a4.15 4.15 0 1 0 8.3 0a4.15 4.15 0 1 0 -8.3 0M340.7 157.8a4.15 4.15 0 1 0 8.3 0a4.15 4.15 0 1 0 -8.3 0M356.1 159.6a4.15 4.15 0 1 0 8.3 0a4.15 4.15 0 1 0 -8.3 0M358.6 159.6a4.15 4.15 0 1 0 8.3 0a4.15 4.15 0 1 0 -8.3 0M367.5 157.8a4.15 4.15 0 1 0 8.3 0a4.15 4.15 0 1 0 -8.3 0M369.1 158.6a4.15 4.15 0 1 0 8.3 0a4.15 4.15 0 1 0 -8.3 0M371.7 159.6a4.15 4.15 0 1 0 8.3 0a4.15 4.15 0 1 0 -8.3 0M387.9 159.6a4.15 4.15 0 1 0 8.3 0a4.15 4.15 0 1 0 -8.3 0M204.5 162.8a4.15 4.15 0 1 0 8.3 0a4.15 4.15 0 1 0 -8.3 0M245.8 162.8a4.15 4.15 0 1 0 8.3 0a4.15 4.15 0 1 0 -8.3 0M339.1 161.1a4.15 4.15 0 1 0 8.3 0a4.15 4.15 0 1 0 -8.3 0M368.2 162.8a4.15 4.15 0 1 0 8.3 0a4.15 4.15 0 1 0 -8.3 0M337.5 164.3a4.15 4.15 0 1 0 8.3 0a4.15 4.15 0 1 0 -8.3 0M404.9 165.0a4.15 4.15 0 1 0 8.3 0a4.15 4.15 0 1 0 -8.3 0M421.9 165.0a4.15 4.15 0 1 0 8.3 0a4.15 4.15 0 1 0 -8.3 0M425.2 165.0a4.15 4.15 0 1 0 8.3 0a4.15 4.15 0 1 0 -8.3 0M450.2 165.0a4.15 4.15 0 1 0 8.3 0a4.15 4.15 0 1 0 -8.3 0M425.9 165.0a4.15 4.15 0 1 0 8.3 0a4.15 4.15 0 1 0 -8.3 0M239.4 167.8a4.15 4.15 0 1 0 8.3 0a4.15 4.15 0 1 0 -8.3 0M308.2 167.8a4.15 4.15 0 1 0 8.3 0a4.15 4.15 0 1 0 -8.3 0M336.7 166.7a4.15 4.15 0 1 0 8.3 0a4.15 4.15 0 1 0 -8.3 0M335.9 168.4a4.15 4.15 0 1 0 8.3 0a4.15 4.15 0 1 0 -8.3 0M344.0 167.8a4.15 4.15 0 1 0 8.3 0a4.15 4.15 0 1 0 -8.3 0M350.5 167.8a4.15 4.15 0 1 0 8.3 0a4.15 4.15 0 1 0 -8.3 0M366.7 166.7a4.15 4.15 0 1 0 8.3 0a4.15 4.15 0 1 0 -8.3 0M369.1 167.8a4.15 4.15 0 1 0 8.3 0a4.15 4.15 0 1 0 -8.3 0M372.4 167.8a4.15 4.15 0 1 0 8.3 0a4.15 4.15 0 1 0 -8.3 0M394.2 167.8a4.15 4.15 0 1 0 8.3 0a4.15 4.15 0 1 0 -8.3 0M406.5 167.1a4.15 4.15 0 1 0 8.3 0a4.15 4.15 0 1 0 -8.3 0M87.5 328.6a4.15 4.15 0 1 0 8.3 0a4.15 4.15 0 1 0 -8.3 0" fill="none" stroke="#00f" stroke-width="1.6"/>
<path d="M256.2 127.2l8.2 7.2m0 -7.2l-8.2 7.2M309.9 129.3l8.2 7.2m0 -7.2l-8.2 7.2M334.3 86.6l8.2 7.2m0 -7.2l-8.2 7.2M345.6 105.5l8.2 7.2m0 -7.2l-8.2 7.2M429.2 105.2l8.2 7.2m0 -7.2l-8.2 7.2M505.2 117.3l8.2 7.2m0 -7.2l-8.2 7.2M339.5 129.1l8.2 7.2m0 -7.2l-8.2 7.2M346.0 129.1l8.2 7.2m0 -7.2l-8.2 7.2M353.1 129.1l8.2 7.2m0 -7.2l-8.2 7.2M358.4 129.1l8.2 7.2m0 -7.2l-8.2 7.2M364.4 129.1l8.2 7.2m0 -7.2l-8.2 7.2M378.4 129.1l8.2 7.2m0 -7.2l-8.2 7.2M400.4 129.1l8.2 7.2m0 -7.2l-8.2 7.2M404.4 129.1l8.2 7.2m0 -7.2l-8.2 7.2M426.6 129.1l8.2 7.2m0 -7.2l-8.2 7.2M87.5 342.4l8.2 7.2m0 -7.2l-8.2 7.2" fill="none" stroke="#000" stroke-width="3.1" stroke-linecap="round"/>
<path d="M53.20 384.1v5.6M53.20 25.1v-5.6M93.57 384.1v3.2M93.57 25.1v-3.2M117.18 384.1v3.2M117.18 25.1v-3.2M133.94 384.1v3.2M133.94 25.1v-3.2M146.93 384.1v3.2M146.93 25.1v-3.2M157.55 384.1v3.2M157.55 25.1v-3.2M166.53 384.1v3.2M166.53 25.1v-3.2M174.30 384.1v3.2M174.30 25.1v-3.2M181.16 384.1v3.2M181.16 25.1v-3.2M187.30 384.1v5.6M187.30 25.1v-5.6M227.67 384.1v3.2M227.67 25.1v-3.2M251.28 384.1v3.2M251.28 25.1v-3.2M268.04 384.1v3.2M268.04 25.1v-3.2M281.03 384.1v3.2M281.03 25.1v-3.2M291.65 384.1v3.2M291.65 25.1v-3.2M300.63 384.1v3.2M300.63 25.1v-3.2M308.40 384.1v3.2M308.40 25.1v-3.2M315.26 384.1v3.2M315.26 25.1v-3.2M321.40 384.1v5.6M321.40 25.1v-5.6M361.77 384.1v3.2M361.77 25.1v-3.2M385.38 384.1v3.2M385.38 25.1v-3.2M402.14 384.1v3.2M402.14 25.1v-3.2M415.13 384.1v3.2M415.13 25.1v-3.2M425.75 384.1v3.2M425.75 25.1v-3.2M434.73 384.1v3.2M434.73 25.1v-3.2M442.50 384.1v3.2M442.50 25.1v-3.2M449.36 384.1v3.2M449.36 25.1v-3.2M455.50 384.1v5.6M455.50 25.1v-5.6M495.87 384.1v3.2M495.87 25.1v-3.2M519.48 384.1v3.2M519.48 25.1v-3.2M536.24 384.1v3.2M536.24 25.1v-3.2M549.23 384.1v3.2M549.23 25.1v-3.2M53.2 384.10h-6M549.23 384.10h6M53.2 354.18h-3.2M549.23 354.18h3.2M53.2 324.27h-6M549.23 324.27h6M53.2 294.35h-3.2M549.23 294.35h3.2M53.2 264.43h-6M549.23 264.43h6M53.2 234.52h-3.2M549.23 234.52h3.2M53.2 204.60h-6M549.23 204.60h6M53.2 174.68h-3.2M549.23 174.68h3.2M53.2 144.77h-6M549.23 144.77h6M53.2 114.85h-3.2M549.23 114.85h3.2M53.2 84.93h-6M549.23 84.93h6M53.2 55.02h-3.2M549.23 55.02h3.2M53.2 25.10h-6M549.23 25.10h6" stroke="#000" stroke-width="1.3" fill="none"/>
<path d="M47.2 25.1H555M47.2 384.1H555" stroke="#000" stroke-width="1.5" fill="none"/>
<path d="M53.300000000000004 24.6V384.6M549.23 24.6V384.6" stroke="#000" stroke-width="1.7" fill="none"/>
<text x="41.6" y="388.9" font-size="14" text-anchor="end">2</text>
<text x="41.6" y="329.1" font-size="14" text-anchor="end">3</text>
<text x="41.6" y="269.2" font-size="14" text-anchor="end">4</text>
<text x="41.6" y="209.4" font-size="14" text-anchor="end">5</text>
<text x="41.6" y="149.6" font-size="14" text-anchor="end">6</text>
<text x="41.6" y="89.7" font-size="14" text-anchor="end">7</text>
<text x="41.6" y="29.9" font-size="14" text-anchor="end">8</text>
<text x="53.2" y="408.5" font-size="13.5" text-anchor="middle">0.1</text>
<text x="187.3" y="408.5" font-size="13.5" text-anchor="middle">1</text>
<text x="321.4" y="408.5" font-size="13.5" text-anchor="middle">10</text>
<text x="455.5" y="408.5" font-size="13.5" text-anchor="middle">100</text>
<text x="301.5" y="10.8" font-size="15" text-anchor="middle">DB2 (1755 recordings)</text>
<text x="269.9" y="438.8" font-size="16">R<tspan font-size="12" dy="7.2">JB</tspan><tspan dy="-7.2"> (km)</tspan></text>
<text transform="translate(11.9,217.3) rotate(-90)" font-size="16">M<tspan font-size="11" dy="6">w</tspan></text>
<text x="115.4" y="315.6" font-size="14">Taiwan</text>
<text x="115.4" y="333.4" font-size="14">USA</text>
<text x="115.4" y="351" font-size="14">Others</text>
</svg></body></html>
